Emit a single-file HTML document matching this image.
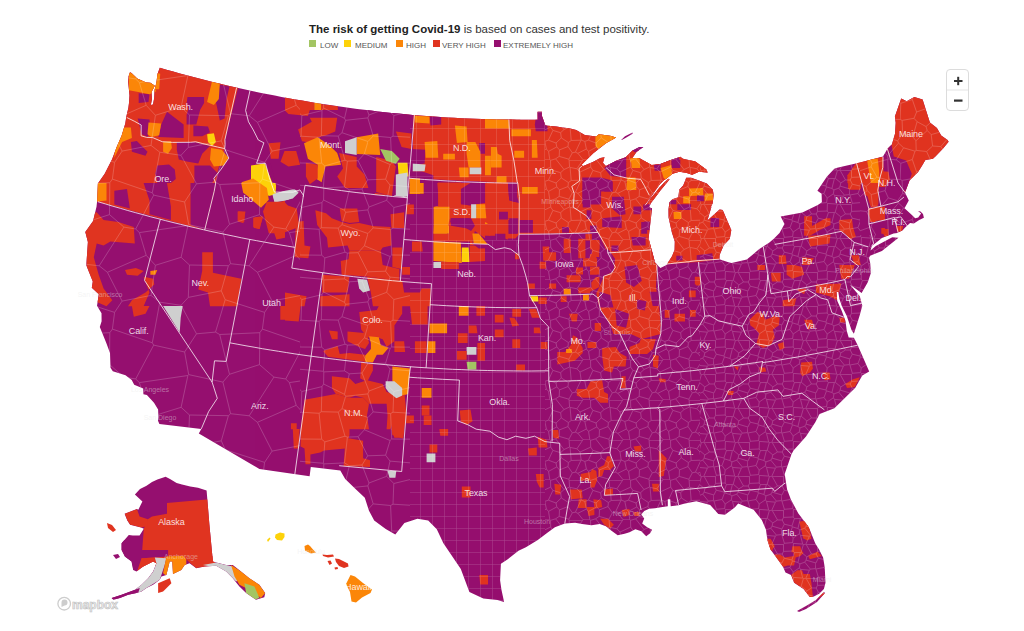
<!DOCTYPE html>
<html><head><meta charset="utf-8"><style>
html,body{margin:0;padding:0;background:#fff;width:1024px;height:631px;overflow:hidden}
body{font-family:"Liberation Sans",sans-serif;position:relative}
.title{position:absolute;left:309px;top:22.5px;font-size:11.5px;line-height:13px;color:#333;white-space:nowrap;letter-spacing:0px}
.title b{font-weight:bold;color:#222}
.leg{position:absolute;top:40.6px;font-size:8px;color:#555;white-space:nowrap;line-height:9px}
.sq{position:absolute;top:40px;width:7px;height:7px}
.zoom{position:absolute;left:946px;top:69px;width:22px;height:41px;border:1px solid #e6e6e6;border-radius:3px;background:#fff}
.zoom div{height:20px;position:relative}
.zoom div+div{border-top:1px solid #e6e6e6}
svg{position:absolute;left:0;top:0}
</style></head><body>
<svg width="1024" height="631" viewBox="0 0 1024 631">
<defs><clipPath id="us"><path d="M130.0,72.2 131.5,72.9 137.2,78.4 146.2,82.6 150.5,82.8 154.8,85.7 151.5,92.0 152.0,99.0 150.8,105.0 153.0,104.5 154.2,98.0 154.6,90.0 156.5,82.0 157.5,74.0 159.8,67.8 159.8,67.8 166.5,69.8 173.2,71.6 179.9,73.5 186.7,75.3 193.4,77.1 200.1,78.8 206.9,80.5 213.6,82.2 220.4,83.8 227.2,85.4 233.9,87.0 240.7,88.5 247.5,90.0 254.3,91.4 261.2,92.9 268.0,94.2 274.8,95.6 281.6,96.9 288.5,98.2 295.3,99.4 302.2,100.6 309.0,101.8 315.9,102.9 322.8,104.0 329.7,105.0 336.5,106.1 343.4,107.0 350.3,108.0 357.2,108.9 364.1,109.8 371.0,110.6 377.9,111.4 384.9,112.2 391.8,112.9 398.7,113.6 405.6,114.2 412.6,114.9 419.5,115.4 426.4,116.0 433.4,116.5 440.3,117.0 447.3,117.4 454.2,117.8 461.2,118.2 468.1,118.5 475.1,118.8 482.0,119.0 489.0,119.2 495.9,119.4 502.9,119.5 509.9,119.6 516.8,119.7 523.8,119.7 530.7,119.7 537.7,119.7 537.6,111.8 542.0,111.7 541.8,115.5 545.4,125.4 556.6,126.6 562.2,127.5 569.2,128.3 576.2,130.1 584.8,135.0 596.2,136.5 598.9,134.3 610.2,135.7 616.2,137.4 606.0,143.2 593.2,153.2 581.8,164.6 582.6,166.2 592.8,162.1 600.3,158.0 604.4,157.3 603.0,162.8 605.8,166.2 616.0,160.8 625.6,157.3 632.4,150.5 639.3,147.1 643.4,147.1 636.5,151.9 632.4,158.0 639.3,158.0 651.6,164.9 659.8,164.2 670.7,160.1 680.3,156.7 683.0,158.7 695.3,161.4 706.3,169.6 707.6,172.4 698.9,171.8 692.1,174.7 686.2,172.8 679.3,171.8 672.4,173.8 667.5,177.7 663.6,180.6 659.6,184.6 654.7,191.4 650.8,197.3 646.9,202.2 643.9,206.2 645.9,205.2 649.8,199.3 654.7,193.4 659.6,187.5 664.6,182.1 668.5,178.7 669.5,179.6 664.6,185.5 659.6,191.4 654.7,198.3 650.8,203.2 648.8,207.2 652.0,208.5 650.3,223.5 648.6,238.6 655.0,262.5 660.4,267.9 666.4,264.9 672.0,256.3 674.6,249.7 674.8,241.6 671.9,232.4 668.6,217.6 668.5,209.1 669.5,202.2 672.4,199.3 678.3,197.3 679.3,189.5 683.2,185.5 685.2,180.6 686.2,177.7 691.1,177.7 698.9,180.6 706.8,183.6 710.7,187.5 712.7,189.5 713.7,194.4 712.7,203.2 708.8,211.1 711.6,206.3 707.4,220.5 719.6,209.4 722.7,210.1 731.3,230.0 729.8,238.7 723.7,245.3 719.6,254.9 719.4,259.2 728.4,262.2 731.6,262.9 746.8,259.6 759.3,249.1 769.4,242.5 773.8,238.8 779.5,233.1 784.5,223.9 780.7,216.5 802.4,212.6 817.8,205.0 821.9,202.2 821.6,193.7 817.4,190.7 827.0,176.5 834.3,168.7 837.2,167.8 837.2,167.8 844.8,166.0 852.5,164.2 860.1,162.4 867.7,160.5 875.4,158.5 883.0,156.6 887.3,148.9 891.9,144.4 895.0,133.8 895.7,122.8 894.9,116.6 901.2,98.6 906.7,101.3 914.3,96.9 922.6,99.4 929.9,122.6 936.9,128.1 941.2,135.5 947.6,140.0 948.6,141.7 943.5,147.9 935.9,156.1 932.9,158.8 925.4,159.9 922.3,165.2 918.1,172.1 909.5,180.6 905.0,192.5 908.8,200.6 904.5,208.3 911.9,215.0 915.2,218.2 918.2,217.6 921.1,213.5 918.0,211.1 920.5,211.5 923.0,214.1 923.9,217.8 919.2,220.0 913.9,223.6 910.1,223.1 904.9,227.8 902.7,230.3 897.3,233.0 893.6,233.5 881.9,238.0 877.9,241.2 871.8,245.9 870.5,250.5 875.8,246.0 892.3,237.3 898.5,237.7 881.9,251.0 870.1,255.8 869.0,258.0 870.2,263.1 870.9,272.9 867.8,282.3 861.6,293.0 849.8,284.4 859.8,296.2 862.3,305.8 859.8,315.0 853.9,333.8 851.5,330.0 846.8,315.9 841.7,305.8 839.2,298.2 838.5,291.8 836.5,292.0 837.2,300.7 841.7,310.8 845.5,321.0 846.8,331.0 848.7,337.4 853.9,337.8 857.7,345.2 869.2,371.4 862.3,375.5 855.3,387.7 834.4,408.2 819.6,413.9 815.3,422.2 806.0,436.6 793.5,450.4 791.5,454.3 784.7,474.0 787.1,489.6 790.9,499.5 798.2,513.2 808.8,527.3 815.2,543.3 819.2,549.8 823.1,557.6 824.7,567.1 825.5,582.7 823.9,589.0 819.2,593.7 812.9,596.9 809.8,596.9 803.5,589.0 794.1,582.7 791.0,574.9 785.5,572.5 783.1,567.1 780.0,562.4 775.3,556.1 770.6,549.8 767.5,540.4 765.9,529.4 761.8,520.1 753.6,509.8 738.2,503.4 735.0,507.3 725.0,514.8 718.3,514.1 710.2,504.9 696.3,501.3 683.9,503.8 678.6,505.2 670.7,506.2 670.2,499.3 667.8,499.3 667.8,506.2 660.9,507.2 655.0,508.2 649.1,508.7 644.2,511.1 641.3,514.6 644.2,518.5 642.2,523.4 647.2,527.3 652.1,529.8 650.1,533.2 646.2,536.2 641.3,531.3 635.4,529.3 629.5,532.2 624.6,533.7 617.7,535.2 610.8,530.3 605.9,526.3 599.7,524.0 591.5,525.2 582.1,524.0 575.1,522.8 564.8,523.4 554.9,527.2 547.7,532.5 537.8,539.9 525.9,547.2 518.5,550.7 507.4,559.6 500.9,563.7 500.1,580.3 501.4,589.6 504.1,601.9 497.5,599.9 483.3,598.6 469.4,592.0 460.8,568.9 443.4,543.2 436.8,529.3 428.2,520.4 417.4,518.7 404.4,523.1 395.3,534.6 385.7,529.0 374.2,520.5 369.0,510.8 364.8,497.8 355.0,488.4 345.2,479.0 340.3,470.4 310.8,466.9 309.6,476.3 259.4,469.0 198.8,433.4 201.3,428.9 159.4,424.1 158.0,420.8 158.4,417.0 158.1,409.4 154.0,402.8 146.9,394.9 143.4,394.3 143.2,388.4 134.2,384.7 131.7,379.9 125.5,375.3 112.8,371.2 110.5,367.7 110.0,353.0 106.2,342.8 99.8,327.1 101.6,321.2 101.5,313.3 97.0,305.7 98.8,294.2 91.8,287.8 92.8,281.5 86.3,265.3 87.9,242.0 85.3,232.1 93.1,220.9 96.5,206.7 97.2,200.4 97.9,183.4 104.7,173.7 112.2,159.1 116.8,146.7 121.6,135.7 125.3,123.6 126.3,116.7 128.4,107.8 129.0,102.9 129.5,95.5 128.2,81.9 128.6,76.3Z M824.0,592.0 816.0,600.0 806.0,606.0 797.0,611.0 799.0,612.0 806.0,609.0 817.0,602.0 825.0,593.0Z M621.1,139.9 625.0,136.3 632.5,132.4 632.6,133.7 625.9,137.7 621.8,140.1Z"/></clipPath><pattern id="cA" patternUnits="userSpaceOnUse" width="150" height="150"><path d="M122.1 1.1L107.4 -27.7M122.1 151.1L107.4 122.3M107.4 122.3L99.2 115.8M99.2 115.8L80.6 113.7M80.6 113.7L78.4 115.7M78.4 115.7L71.3 140.8M71.3 140.8L75.2 149.7M146.2 105.3L139.4 82.6M146.2 105.3L107.4 122.3M139.4 82.6L135.7 79.0M123.9 77.1L135.7 79.0M123.9 77.1L99.2 115.8M109.5 64.6L123.9 77.1M109.5 64.6L79.5 74.3M80.6 113.7L72.9 82.1M79.5 74.3L72.9 82.1M-14.3 79.0L3.7 45.1M135.7 79.0L153.7 45.1M-27.9 1.1L1.0 -4.6M-27.9 151.1L1.0 145.4M122.1 1.1L151.0 -4.6M122.1 151.1L151.0 145.4M78.4 115.7L39.5 115.0M71.3 140.8L38.3 147.4M39.5 115.0L38.3 147.4M9.8 2.2L1.0 -4.6M9.8 152.2L1.0 145.4M46.5 33.8L31.0 5.3M46.5 33.8L34.6 52.0M31.0 5.3L9.8 2.2M3.7 45.1L34.6 52.0M3.7 45.1L2.3 42.8M9.8 2.2L2.3 42.8M31.1 107.3L5.4 115.3M31.1 107.3L37.9 75.5M37.9 75.5L-10.6 82.6M187.9 75.5L139.4 82.6M5.4 115.3L-3.8 105.3M155.4 115.3L146.2 105.3M39.5 115.0L31.1 107.3M1.0 145.4L5.4 115.3M72.9 82.1L38.7 74.6M38.7 74.6L37.9 75.5M38.7 74.6L34.6 52.0M109.8 32.7L112.4 29.1M109.8 32.7L69.7 34.5M112.4 29.1L114.6 12.4M114.6 12.4L75.2 -0.3M114.6 162.4L75.2 149.7M75.2 -0.3L65.5 32.1M75.2 149.7L65.5 182.1M69.7 34.5L65.5 32.1M109.5 64.6L109.8 32.7M2.3 42.8L-37.6 29.1M152.3 42.8L112.4 29.1M79.5 74.3L69.7 34.5M122.1 1.1L114.6 12.4M46.5 33.8L65.5 32.1M31.0 5.3L38.3 -2.6M31.0 155.3L38.3 147.4" stroke="#fff" stroke-width="0.8" fill="none"/></pattern><pattern id="cB" patternUnits="userSpaceOnUse" width="92" height="92"><path d="M25.0 44.2L43.1 45.3M25.0 44.2L25.8 23.5M46.0 18.6L25.8 23.5M46.0 18.6L45.3 43.7M45.3 43.7L43.1 45.3M23.7 71.0L22.6 45.5M23.7 71.0L45.7 71.2M45.7 71.2L43.1 45.3M22.6 45.5L25.0 44.2M48.8 73.9L69.0 68.2M48.8 73.9L45.7 71.2M69.0 68.2L62.2 44.1M62.2 44.1L45.3 43.7M-0.2 25.9L5.2 43.9M91.8 25.9L97.2 43.9M5.2 43.9L-0.0 49.5M97.2 43.9L92.0 49.5M22.6 45.5L5.2 43.9M25.8 23.5L18.7 16.3M1.0 23.0L18.7 16.3M1.0 23.0L-0.2 25.9M93.0 23.0L91.8 25.9M22.1 72.5L-3.6 61.8M114.1 72.5L88.4 61.8M22.1 72.5L23.7 71.0M88.4 61.8L92.0 49.5M91.7 87.8L82.1 68.7M82.1 68.7L88.4 61.8M69.0 68.2L71.4 69.1M62.2 44.1L66.0 40.7M66.0 40.7L92.0 49.5M82.1 68.7L71.4 69.1M48.8 -18.1L47.4 3.3M48.8 73.9L47.4 95.3M71.4 -22.9L68.5 2.9M71.4 69.1L68.5 94.9M66.0 40.7L69.6 28.3M91.8 25.9L69.6 28.3M46.0 18.6L47.6 16.0M47.6 16.0L68.5 26.3M69.6 28.3L68.5 26.3M22.0 1.1L18.7 16.3M-0.3 87.8L17.6 87.2M91.7 87.8L109.6 87.2M17.6 -4.8L22.0 1.1M17.6 87.2L22.0 93.1M22.1 72.5L17.6 87.2M47.4 3.3L47.8 3.9M47.8 3.9L68.5 2.9M22.0 1.1L47.4 3.3M47.6 16.0L47.8 3.9M73.3 5.8L68.5 26.3M73.3 5.8L68.5 2.9M73.3 5.8L86.0 5.0M1.0 23.0L-6.0 5.0M93.0 23.0L86.0 5.0M86.0 5.0L91.7 -4.2M86.0 97.0L91.7 87.8" stroke="#fff" stroke-width="0.8" fill="none"/></pattern><pattern id="cG" patternUnits="userSpaceOnUse" width="12" height="12"><path d="M0 0.4H12M0.4 0V12" stroke="#fff" stroke-width="0.55" fill="none"/></pattern><pattern id="cH" patternUnits="userSpaceOnUse" width="16" height="16"><path d="M0 0.4H16M0.4 0V16" stroke="#fff" stroke-width="0.55" fill="none"/></pattern><pattern id="cC" patternUnits="userSpaceOnUse" width="40" height="40"><path d="M-0.5 29.9L8.0 26.5M39.5 29.9L48.0 26.5M12.3 32.8L8.9 39.2M12.3 32.8L8.0 26.5M8.9 39.2L-0.8 36.4M48.9 39.2L39.2 36.4M8.9 -0.8L9.1 0.2M8.9 39.2L9.1 40.2M8.0 26.5L8.4 22.5M8.4 22.5L1.3 17.9M12.3 32.8L15.4 32.2M15.4 32.2L17.9 33.3M23.1 39.8L17.9 33.3M4.0 9.5L0.6 12.7M4.0 9.5L9.6 7.0M8.4 22.5L11.2 20.5M9.6 7.0L10.1 7.4M0.6 12.7L1.3 17.9M11.2 20.5L10.1 7.4M15.4 32.2L21.0 20.2M11.2 20.5L21.0 20.2M24.8 21.4L21.2 20.1M24.8 21.4L26.4 29.0M17.9 33.3L26.4 29.0M21.0 20.2L21.2 20.1M9.6 7.0L9.1 0.2M23.1 39.8L29.9 39.9M26.4 29.0L28.5 31.4M28.5 31.4L29.9 39.9M35.6 38.8L39.2 36.4M35.6 -1.2L30.5 0.4M35.6 38.8L30.5 40.4M21.2 20.1L20.0 12.0M10.1 7.4L16.9 8.8M16.9 8.8L20.0 12.0M9.1 0.2L22.6 0.3M16.9 8.8L22.6 0.3M24.8 21.4L28.4 20.2M28.4 20.2L32.9 10.4M32.9 10.4L30.7 7.1M20.0 12.0L30.7 7.1M22.6 0.3L23.1 -0.2M22.6 40.3L23.1 39.8M30.5 0.4L29.9 -0.1M30.5 40.4L29.9 39.9M30.7 7.1L30.5 0.4M39.2 36.4L39.5 29.9M28.4 20.2L36.0 23.0M28.5 31.4L36.8 26.9M36.0 23.0L36.8 26.9M36.8 26.9L39.5 29.9M-4.0 23.0L1.3 17.9M36.0 23.0L41.3 17.9M-7.1 10.4L0.6 12.7M32.9 10.4L40.6 12.7M-4.4 -1.2L4.0 9.5M-4.4 38.8L4.0 49.5M35.6 -1.2L44.0 9.5M35.6 38.8L44.0 49.5" stroke="#fff" stroke-width="0.8" fill="none"/></pattern><pattern id="cD" patternUnits="userSpaceOnUse" width="34" height="34"><path d="M12.4 8.6L9.9 16.0M12.4 8.6L18.4 8.5M9.9 16.0L10.5 16.9M10.5 16.9L15.9 18.5M18.4 8.5L15.9 18.5M33.9 19.0L24.1 16.1M33.9 19.0L33.4 24.6M33.4 24.6L28.4 25.1M24.1 16.1L22.8 18.2M28.4 25.1L22.8 18.2M8.0 23.5L10.5 16.9M8.0 23.5L11.2 28.0M11.2 28.0L17.4 23.8M15.9 18.5L17.9 19.9M17.4 23.8L17.9 19.9M33.4 24.6L33.9 25.0M23.8 0.2L27.4 -7.8M23.8 34.2L27.4 26.2M18.5 25.4L27.4 26.2M18.5 -8.6L20.7 0.1M18.5 25.4L20.7 34.1M28.4 25.1L27.4 26.2M22.8 18.2L17.9 19.9M17.4 23.8L18.5 25.4M11.2 28.0L10.6 32.6M10.6 32.6L11.4 33.4M11.4 -0.6L20.7 0.1M11.4 33.4L20.7 34.1M29.5 10.0L24.1 0.3M29.5 10.0L24.8 12.9M24.8 12.9L19.2 8.2M19.2 8.2L21.4 0.5M21.4 0.5L23.8 0.2M24.1 0.3L23.8 0.2M1.5 0.6L-9.9 0.3M35.5 0.6L24.1 0.3M0.2 10.0L-4.5 10.0M34.2 10.0L29.5 10.0M24.1 16.1L24.8 12.9M18.4 8.5L19.2 8.2M10.6 32.6L2.4 33.3M2.4 -0.7L1.5 0.6M2.4 33.3L1.5 34.6M8.0 23.5L-0.1 25.0M42.0 23.5L33.9 25.0M2.4 33.3L-0.1 25.0M36.4 33.3L33.9 25.0M21.4 0.5L20.7 0.1M11.2 7.0L1.5 7.4M11.2 7.0L11.4 -0.6M11.2 41.0L11.4 33.4M1.5 7.4L1.5 0.6M12.4 8.6L11.2 7.0M9.9 16.0L2.3 14.2M0.2 10.0L2.3 14.2M0.2 10.0L1.5 7.4M2.3 14.2L-0.1 19.0M36.3 14.2L33.9 19.0" stroke="#fff" stroke-width="0.8" fill="none"/></pattern><pattern id="cE" patternUnits="userSpaceOnUse" width="60" height="60"><path d="M0.1 59.4L-11.3 59.3M60.1 59.4L48.7 59.3M48.7 59.3L47.7 39.4M0.8 43.3L-3.7 39.9M60.8 43.3L56.3 39.9M56.3 39.9L48.0 39.0M48.0 39.0L47.7 39.4M3.6 27.8L-3.7 39.9M63.6 27.8L56.3 39.9M47.6 35.9L58.5 23.1M47.6 35.9L48.0 39.0M47.6 35.9L40.8 26.6M40.8 26.6L48.3 17.9M58.5 23.1L57.7 20.8M57.7 20.8L48.3 17.9M2.1 0.4L2.6 13.4M2.6 13.4L12.8 16.7M12.8 16.7L17.1 1.7M-2.3 20.8L2.6 13.4M57.7 20.8L62.6 13.4M32.1 43.5L47.7 39.4M32.1 43.5L26.6 31.5M40.8 26.6L32.6 26.0M32.6 26.0L26.6 31.5M-1.5 23.1L3.6 27.8M58.5 23.1L63.6 27.8M15.0 31.2L3.6 27.8M15.0 31.2L16.2 30.4M12.8 16.7L15.9 20.8M16.2 30.4L15.9 20.8M48.7 59.3L47.5 59.9M31.2 46.8L36.9 57.1M31.2 46.8L16.6 52.0M16.6 52.0L14.0 58.3M17.1 1.7L14.0 -1.7M17.1 61.7L14.0 58.3M32.1 43.5L31.2 46.8M47.5 59.9L36.9 57.1M12.3 39.5L15.0 31.2M12.3 39.5L16.6 52.0M26.6 31.5L16.2 30.4M26.0 6.5L36.9 -2.9M26.0 66.5L36.9 57.1M26.0 6.5L27.2 10.5M27.2 10.5L31.2 14.6M31.2 14.6L45.1 10.6M47.5 -0.1L45.1 10.6M47.5 59.9L45.1 70.6M17.1 1.7L26.0 6.5M15.9 20.8L27.2 10.5M32.6 26.0L31.2 14.6M48.3 17.9L45.1 10.6M2.1 0.4L14.0 -1.7M2.1 60.4L14.0 58.3M2.1 0.4L0.1 -0.6M2.1 60.4L0.1 59.4M12.3 39.5L0.8 43.3M0.1 59.4L0.8 43.3" stroke="#fff" stroke-width="0.8" fill="none"/></pattern></defs>
<path d="M130.0,72.2 131.5,72.9 137.2,78.4 146.2,82.6 150.5,82.8 154.8,85.7 151.5,92.0 152.0,99.0 150.8,105.0 153.0,104.5 154.2,98.0 154.6,90.0 156.5,82.0 157.5,74.0 159.8,67.8 159.8,67.8 166.5,69.8 173.2,71.6 179.9,73.5 186.7,75.3 193.4,77.1 200.1,78.8 206.9,80.5 213.6,82.2 220.4,83.8 227.2,85.4 233.9,87.0 240.7,88.5 247.5,90.0 254.3,91.4 261.2,92.9 268.0,94.2 274.8,95.6 281.6,96.9 288.5,98.2 295.3,99.4 302.2,100.6 309.0,101.8 315.9,102.9 322.8,104.0 329.7,105.0 336.5,106.1 343.4,107.0 350.3,108.0 357.2,108.9 364.1,109.8 371.0,110.6 377.9,111.4 384.9,112.2 391.8,112.9 398.7,113.6 405.6,114.2 412.6,114.9 419.5,115.4 426.4,116.0 433.4,116.5 440.3,117.0 447.3,117.4 454.2,117.8 461.2,118.2 468.1,118.5 475.1,118.8 482.0,119.0 489.0,119.2 495.9,119.4 502.9,119.5 509.9,119.6 516.8,119.7 523.8,119.7 530.7,119.7 537.7,119.7 537.6,111.8 542.0,111.7 541.8,115.5 545.4,125.4 556.6,126.6 562.2,127.5 569.2,128.3 576.2,130.1 584.8,135.0 596.2,136.5 598.9,134.3 610.2,135.7 616.2,137.4 606.0,143.2 593.2,153.2 581.8,164.6 582.6,166.2 592.8,162.1 600.3,158.0 604.4,157.3 603.0,162.8 605.8,166.2 616.0,160.8 625.6,157.3 632.4,150.5 639.3,147.1 643.4,147.1 636.5,151.9 632.4,158.0 639.3,158.0 651.6,164.9 659.8,164.2 670.7,160.1 680.3,156.7 683.0,158.7 695.3,161.4 706.3,169.6 707.6,172.4 698.9,171.8 692.1,174.7 686.2,172.8 679.3,171.8 672.4,173.8 667.5,177.7 663.6,180.6 659.6,184.6 654.7,191.4 650.8,197.3 646.9,202.2 643.9,206.2 645.9,205.2 649.8,199.3 654.7,193.4 659.6,187.5 664.6,182.1 668.5,178.7 669.5,179.6 664.6,185.5 659.6,191.4 654.7,198.3 650.8,203.2 648.8,207.2 652.0,208.5 650.3,223.5 648.6,238.6 655.0,262.5 660.4,267.9 666.4,264.9 672.0,256.3 674.6,249.7 674.8,241.6 671.9,232.4 668.6,217.6 668.5,209.1 669.5,202.2 672.4,199.3 678.3,197.3 679.3,189.5 683.2,185.5 685.2,180.6 686.2,177.7 691.1,177.7 698.9,180.6 706.8,183.6 710.7,187.5 712.7,189.5 713.7,194.4 712.7,203.2 708.8,211.1 711.6,206.3 707.4,220.5 719.6,209.4 722.7,210.1 731.3,230.0 729.8,238.7 723.7,245.3 719.6,254.9 719.4,259.2 728.4,262.2 731.6,262.9 746.8,259.6 759.3,249.1 769.4,242.5 773.8,238.8 779.5,233.1 784.5,223.9 780.7,216.5 802.4,212.6 817.8,205.0 821.9,202.2 821.6,193.7 817.4,190.7 827.0,176.5 834.3,168.7 837.2,167.8 837.2,167.8 844.8,166.0 852.5,164.2 860.1,162.4 867.7,160.5 875.4,158.5 883.0,156.6 887.3,148.9 891.9,144.4 895.0,133.8 895.7,122.8 894.9,116.6 901.2,98.6 906.7,101.3 914.3,96.9 922.6,99.4 929.9,122.6 936.9,128.1 941.2,135.5 947.6,140.0 948.6,141.7 943.5,147.9 935.9,156.1 932.9,158.8 925.4,159.9 922.3,165.2 918.1,172.1 909.5,180.6 905.0,192.5 908.8,200.6 904.5,208.3 911.9,215.0 915.2,218.2 918.2,217.6 921.1,213.5 918.0,211.1 920.5,211.5 923.0,214.1 923.9,217.8 919.2,220.0 913.9,223.6 910.1,223.1 904.9,227.8 902.7,230.3 897.3,233.0 893.6,233.5 881.9,238.0 877.9,241.2 871.8,245.9 870.5,250.5 875.8,246.0 892.3,237.3 898.5,237.7 881.9,251.0 870.1,255.8 869.0,258.0 870.2,263.1 870.9,272.9 867.8,282.3 861.6,293.0 849.8,284.4 859.8,296.2 862.3,305.8 859.8,315.0 853.9,333.8 851.5,330.0 846.8,315.9 841.7,305.8 839.2,298.2 838.5,291.8 836.5,292.0 837.2,300.7 841.7,310.8 845.5,321.0 846.8,331.0 848.7,337.4 853.9,337.8 857.7,345.2 869.2,371.4 862.3,375.5 855.3,387.7 834.4,408.2 819.6,413.9 815.3,422.2 806.0,436.6 793.5,450.4 791.5,454.3 784.7,474.0 787.1,489.6 790.9,499.5 798.2,513.2 808.8,527.3 815.2,543.3 819.2,549.8 823.1,557.6 824.7,567.1 825.5,582.7 823.9,589.0 819.2,593.7 812.9,596.9 809.8,596.9 803.5,589.0 794.1,582.7 791.0,574.9 785.5,572.5 783.1,567.1 780.0,562.4 775.3,556.1 770.6,549.8 767.5,540.4 765.9,529.4 761.8,520.1 753.6,509.8 738.2,503.4 735.0,507.3 725.0,514.8 718.3,514.1 710.2,504.9 696.3,501.3 683.9,503.8 678.6,505.2 670.7,506.2 670.2,499.3 667.8,499.3 667.8,506.2 660.9,507.2 655.0,508.2 649.1,508.7 644.2,511.1 641.3,514.6 644.2,518.5 642.2,523.4 647.2,527.3 652.1,529.8 650.1,533.2 646.2,536.2 641.3,531.3 635.4,529.3 629.5,532.2 624.6,533.7 617.7,535.2 610.8,530.3 605.9,526.3 599.7,524.0 591.5,525.2 582.1,524.0 575.1,522.8 564.8,523.4 554.9,527.2 547.7,532.5 537.8,539.9 525.9,547.2 518.5,550.7 507.4,559.6 500.9,563.7 500.1,580.3 501.4,589.6 504.1,601.9 497.5,599.9 483.3,598.6 469.4,592.0 460.8,568.9 443.4,543.2 436.8,529.3 428.2,520.4 417.4,518.7 404.4,523.1 395.3,534.6 385.7,529.0 374.2,520.5 369.0,510.8 364.8,497.8 355.0,488.4 345.2,479.0 340.3,470.4 310.8,466.9 309.6,476.3 259.4,469.0 198.8,433.4 201.3,428.9 159.4,424.1 158.0,420.8 158.4,417.0 158.1,409.4 154.0,402.8 146.9,394.9 143.4,394.3 143.2,388.4 134.2,384.7 131.7,379.9 125.5,375.3 112.8,371.2 110.5,367.7 110.0,353.0 106.2,342.8 99.8,327.1 101.6,321.2 101.5,313.3 97.0,305.7 98.8,294.2 91.8,287.8 92.8,281.5 86.3,265.3 87.9,242.0 85.3,232.1 93.1,220.9 96.5,206.7 97.2,200.4 97.9,183.4 104.7,173.7 112.2,159.1 116.8,146.7 121.6,135.7 125.3,123.6 126.3,116.7 128.4,107.8 129.0,102.9 129.5,95.5 128.2,81.9 128.6,76.3Z M824.0,592.0 816.0,600.0 806.0,606.0 797.0,611.0 799.0,612.0 806.0,609.0 817.0,602.0 825.0,593.0Z M621.1,139.9 625.0,136.3 632.5,132.4 632.6,133.7 625.9,137.7 621.8,140.1Z" fill="#950f6f"/>
<g clip-path="url(#us)">
<path d="M60,50 150,55 190,68 236.6,84 238,88 224.9,139.7 224.7,148.6 218,170 214.2,191.3 204.7,230 97.9,201.7 60,200Z" fill="#e03420"/>
<path d="M138.7,93.2 149.5,94.2 148.5,102 138.7,103Z" fill="#950f6f"/>
<path d="M187.5,97.1 204.1,97.1 204.1,103 200.2,109.8 196.3,124.5 186.6,124.5 186.6,114.7 188.5,108.8 186.6,103Z" fill="#950f6f"/>
<path d="M167,111.8 183.6,124.5 183.6,138.1 158.2,137.1 161.2,124.5Z" fill="#950f6f"/>
<path d="M219.8,84.4 229.5,86.4 226.6,99.1 224.6,118.6 219.8,120.5 215.9,102Z" fill="#950f6f"/>
<path d="M193.4,125.4 208,126.4 210,132.3 202.2,136.2 193.4,136.2Z" fill="#950f6f"/>
<path d="M137.7,118.6 149.5,119.6 150.4,130.3 147.5,137.1 141.6,134.2 139.7,126.4Z" fill="#950f6f"/>
<path d="M130.9,142 136.8,141.1 147.5,151.8 145.5,155.7 131.9,151.8Z" fill="#950f6f"/>
<path d="M176.8,142 194.4,142 210,145.9 202.2,153.8 198.3,163.5 186.6,161.6 178.8,159.6 176.8,149.8Z" fill="#950f6f"/>
<path d="M157.3,165.5 169,164.5 174.8,169.4 175.8,179.1 170.9,183 157.3,183 155.3,173.3Z" fill="#950f6f"/>
<path d="M194.4,165.5 210,165.5 217.8,173.3 212,183.2 194.4,183.2Z" fill="#950f6f"/>
<path d="M128.9,71.7 141.6,79.5 152.4,83.4 156.3,91.2 149.5,94.2 139.7,92.2 128.9,90.3Z" fill="#fb8608"/>
<path d="M151.4,71.7 160.2,73.7 159.2,89.3 153.4,89.3Z" fill="#fb8608"/>
<path d="M212,81.5 219.8,83.4 218.8,99.1 213.9,104.9 207.1,102Z" fill="#fb8608"/>
<path d="M148.5,122.5 161.2,123.5 159.2,135.2 151.4,137.1 147.5,134.2Z" fill="#fb8608"/>
<path d="M123.1,127.4 130.9,127.4 131.9,138.1 122.1,142 117.2,151.8 114.3,157.7 115.3,145.9Z" fill="#fb8608"/>
<path d="M163.1,142 170.9,141.1 171.9,147.9 168,153.8 163.1,151.8Z" fill="#fb8608"/>
<path d="M211,147.9 221.7,149.8 228.6,157.7 223.7,165.5 213.9,166.4 210,159.6Z" fill="#fb8608"/>
<path d="M207.1,134.2 213.9,133.2 215.9,142 212,145.9 208,142Z" fill="#fdd20a"/>
<path d="M271.5,142 280.3,143 280.3,157.7 272.5,159.6 269.6,151.8Z" fill="#e03420"/>
<path d="M251,165.5 264.7,163.5 268.6,173.3 272.5,183.2 251,183.2Z" fill="#fdd20a"/>
<path d="M285,96.1 314.3,102 314.3,116.6 308.4,118.6 292.8,116.6 285,118.6Z" fill="#e03420"/>
<path d="M321.1,103.9 337.7,105.9 338.7,122.5 333.8,130.3 324.1,133.2 310.4,124.5 309.4,118.6 321.1,118.6Z" fill="#e03420"/>
<path d="M298.7,129.3 310.4,126.4 324.1,134.2 318.2,142 304.5,142 298.7,138.1Z" fill="#e03420"/>
<path d="M396.3,132.3 406.1,130.3 412,134.2 412,144 405.1,147.9 397.3,142Z" fill="#e03420"/>
<path d="M399.3,113.7 412.9,114.7 412.9,127.4 406.1,128.4 400.2,122.5Z" fill="#e03420"/>
<path d="M287,149.8 296.7,151.8 300.6,165.5 292.8,169.4 287,165.5Z" fill="#e03420"/>
<path d="M306.5,161.6 316.2,165.5 316.2,183.2 306.5,183.2Z" fill="#e03420"/>
<path d="M339.7,153.8 357.3,155.7 357.3,177.2 349.5,183.2 335.8,183.2 341.6,169.4Z" fill="#e03420"/>
<path d="M378.8,157.7 394.4,161.6 397.3,177.2 394.4,183.2 376.8,183.2Z" fill="#e03420"/>
<path d="M314.3,102 321.1,103 321.1,118.6 314.3,118.6Z" fill="#fb8608"/>
<path d="M304.5,142 317.2,138.1 326,147.9 341.6,153.8 341.6,165.5 329.9,169.4 324.1,183.2 318.2,183.2 316.2,169.4 308.4,157.7Z" fill="#fb8608"/>
<path d="M356.3,137.1 367,140.1 378.8,132.3 380.7,155.7 357.3,155.7Z" fill="#fb8608"/>
<path d="M346.5,142 352.4,138.1 357.3,140.1 356.3,155.7 349.5,155.7 345.5,147.9Z" fill="#cfcfcf"/>
<path d="M402.2,147.9 411,147.9 410,163.5 402.2,163.5Z" fill="#cfcfcf"/>
<path d="M395.4,174.3 410,175.2 410,183.2 394.4,183.2Z" fill="#cfcfcf"/>
<path d="M380.7,149.8 388.5,150.8 394.4,155.7 402.2,159.6 400.2,164.5 390.5,163.5 382.7,157.7Z" fill="#a3c563"/>
<path d="M397.3,162.5 408,161.6 410,177.2 398.3,177.2Z" fill="#fdd20a"/>
<path d="M414.4,100 520,100 521,183.2 409.1,178.2Z" fill="#e03420"/>
<path d="M429.5,116.6 441.2,116.6 441.2,124.5 430.5,125.4Z" fill="#950f6f"/>
<path d="M411,148.9 425.6,149.8 424.6,163.5 412,165.5Z" fill="#950f6f"/>
<path d="M479.3,143 485,143 485,153.8 479.3,153.8Z" fill="#950f6f"/>
<path d="M410,171.3 421.7,171.3 433.4,175.2 433.4,183.2 410,183.2Z" fill="#950f6f"/>
<path d="M414.9,115.7 429.5,116.6 429.5,123.5 414.9,122.5Z" fill="#fb8608"/>
<path d="M424.6,142 437.3,141.1 438.3,157.7 425.6,157.7Z" fill="#fb8608"/>
<path d="M454.9,125.4 466.6,126.4 467.6,142 456.9,143Z" fill="#fb8608"/>
<path d="M466.6,142 475.4,142 480.3,151.8 480.3,167.4 468.6,167.4 466.6,153.8Z" fill="#fb8608"/>
<path d="M443.2,153.8 454.9,153.8 454.9,159.6 443.2,159.6Z" fill="#fb8608"/>
<path d="M458.8,167.4 468.6,167.4 468.6,177.2 459.8,177.2Z" fill="#fb8608"/>
<path d="M411,163.5 425.6,164.5 424.6,171.3 412,171.3Z" fill="#cfcfcf"/>
<path d="M469.6,167.4 481.3,167.4 481.3,174.3 469.6,174.3Z" fill="#cfcfcf"/>
<path d="M505,100 660,100 620,140 581.9,166.2 579.6,180.9 574.2,193.6 573.2,207.2 586.9,216.1 597.9,232.4 519.1,234.2 517.8,183.2 508.9,119.6Z" fill="#e03420"/>
<path d="M600,150 720,150 710,175 689.5,176 660,182 649.3,195.3 627.4,178.2 606.2,167.7Z" fill="#e03420"/>
<path d="M536.8,111.8 541.6,111.8 543.6,118.6 547.5,126.4 547.5,131.3 535.8,131.3 534.8,124.5Z" fill="#950f6f"/>
<path d="M485,118.6 508.4,119.6 509.4,128.4 485,128.4Z" fill="#fb8608"/>
<path d="M511.4,129.3 530.9,129.3 530.9,136.2 511.4,136.2Z" fill="#fb8608"/>
<path d="M531.9,140.1 536.8,140.1 537.7,157.7 531.9,157.7Z" fill="#fb8608"/>
<path d="M514.3,150.8 524.1,150.8 524.1,157.7 514.3,157.7Z" fill="#fb8608"/>
<path d="M490.9,146.9 496.7,146.9 497.7,153.8 501.6,155.7 501.6,167.4 490.9,167.4Z" fill="#fb8608"/>
<path d="M485,155.7 490.9,155.7 490.9,175.2 485,175.2Z" fill="#fb8608"/>
<path d="M496.7,176.2 506.5,176.2 506.5,183.2 496.7,183.2Z" fill="#fb8608"/>
<path d="M595.4,133.2 604.1,134.2 617.8,137.1 602.2,145.9 598.3,148.9 595.4,145.9Z" fill="#fb8608"/>
<path d="M583,150 607,150 610,170 575,185 575,165Z" fill="#e03420"/>
<path d="M603,166.2 616,160.8 625.6,157.3 627,171 621.5,176.5 611.9,175.1 604.4,171Z" fill="#950f6f"/>
<path d="M632.4,150.5 639.3,146.4 644.7,147.1 639.3,150.5 635.2,152.6Z" fill="#950f6f"/>
<path d="M629.7,158.7 635.8,156.7 639.3,159.4 639.3,168.3 631.7,168.3Z" fill="#fb8608"/>
<path d="M653.6,165.5 663.9,161.4 678.9,157.3 680.3,164.2 673.4,169.6 662.5,169.6 655.7,171Z" fill="#950f6f"/>
<path d="M661.1,164.9 670.7,164.2 672.1,175.1 662.5,176.5Z" fill="#fb8608"/>
<path d="M582.5,176.5 611.9,175.8 613.3,186.1 582.5,186.1Z" fill="#950f6f"/>
<path d="M96.7,183 106.5,183 106.5,200.6 96.7,201.6Z" fill="#fb8608"/>
<path d="M114.3,190.8 127,188.9 129.9,208.4 114.3,204.5Z" fill="#950f6f"/>
<path d="M143.6,183 167,183 170.9,206.4 170.9,220.1 149.5,214.2 149.5,200.6Z" fill="#950f6f"/>
<path d="M190.5,183 215.9,183 204.7,229.9 190.5,225Z" fill="#950f6f"/>
<path d="M85,214.2 96.7,212.3 103.6,220.1 118.2,222.1 133.8,226.9 134.8,243.5 110.4,241.6 103.6,245.5 96.7,243.5 93.8,257.2 98.7,274.8 103.6,288.5 112.3,300.2 106.5,306.2 92.8,300.2 87,274.8 85,241.6Z" fill="#e03420"/>
<path d="M125,269.9 135.8,268 143.6,270.9 137.7,275.8 127,274.8Z" fill="#e03420"/>
<path d="M150.4,270.9 157.3,269.9 155.3,274.8 150.4,274.8Z" fill="#fb8608"/>
<path d="M143.6,276.8 153.4,278.7 154.3,284.6 145.5,292.4 131.9,300.2 128,306.2 143.6,306.2 149.5,292.4Z" fill="#e03420"/>
<path d="M202.2,252.3 212.9,252.3 212.9,272.8 241.2,278.7 237.3,306.2 210,306.2 208,292.4 198.3,289.4 202.2,270.9Z" fill="#e03420"/>
<path d="M238.3,211.3 245.2,212.3 244.2,222.1 239.3,221.1Z" fill="#e03420"/>
<path d="M254.9,217.2 262.7,216.2 259.8,228.9 253.9,227.9Z" fill="#e03420"/>
<path d="M268.6,206.4 285,200.6 285,237.7 276.4,239.6 272.5,227.9 268.6,218.2Z" fill="#e03420"/>
<path d="M241.2,183 266.6,183 266.6,202.5 260.8,205.5 251,198.6 243.2,192.8Z" fill="#fb8608"/>
<path d="M260.8,183 276.4,183 275.4,194.7 266.6,194.7Z" fill="#fdd20a"/>
<path d="M272.5,194.7 285,190.8 285,200.6 274.5,202.5Z" fill="#cfcfcf"/>
<path d="M315.3,210.3 326,213.3 331.9,218.2 341.6,222.1 349.5,224 359.2,223 372.9,226 390.5,226.9 391.4,245.5 382.7,247.5 380.7,250.4 349.5,250.4 347.5,245.5 328,247.5 327,237.7 317.2,225Z" fill="#e03420"/>
<path d="M339.7,208.4 357.3,208.4 359.2,222.1 349.5,223 341.6,221.1Z" fill="#e03420"/>
<path d="M295.7,222.1 303.6,221.1 304.5,245.5 310.4,246.5 308.4,258.2 294.8,257.2Z" fill="#e03420"/>
<path d="M349.5,250.4 380.7,250.4 382.7,265 399.3,268.9 399.3,280.7 369,276.8 341.6,274.8 340.7,261.1 348.5,259.2Z" fill="#e03420"/>
<path d="M392.4,247.5 402.2,247.5 401.2,268.9 392.4,267Z" fill="#e03420"/>
<path d="M390.5,214.2 404.1,212.3 404.1,227.9 391.4,227.9Z" fill="#e03420"/>
<path d="M339.7,183 369,183 369,188.9 339.7,188.9Z" fill="#e03420"/>
<path d="M374.8,183 393.4,183 393.4,194.7 374.8,194.7Z" fill="#e03420"/>
<path d="M393.4,183 408,183 407.1,197.6 394.4,195.7Z" fill="#cfcfcf"/>
<path d="M408,183 423.7,183 423.7,193.7 409,193.7Z" fill="#fb8608"/>
<path d="M285,190.8 294.8,188.9 298.7,192.8 292.8,198.6 285,200.6Z" fill="#cfcfcf"/>
<path d="M285,204.5 296.7,208.4 298.7,222.1 290.9,226 285,222.1Z" fill="#e03420"/>
<path d="M406.1,204.5 413.9,204.5 413.9,214.2 406.1,214.2Z" fill="#e03420"/>
<path d="M437.3,183 472.5,183 472.5,204.5 460.8,204.5 454.9,208.4 449.1,206.4 439.3,206.4Z" fill="#e03420"/>
<path d="M435.4,206.4 449.1,206.4 449.1,233.8 433.4,233.8Z" fill="#fb8608"/>
<path d="M471.5,204.5 476.4,204.5 476.4,218.2 471.5,218.2Z" fill="#cfcfcf"/>
<path d="M476.4,204.5 485,204.5 485,222.1 476.4,222.1Z" fill="#fb8608"/>
<path d="M449.1,222.1 472.5,227.9 485,231.8 485,241.6 433.4,241.6 433.4,233.8 449.1,233.8Z" fill="#e03420"/>
<path d="M472.5,232.8 480.3,235.7 485,239.6 485,243.5 472.5,241.6Z" fill="#fb8608"/>
<path d="M412,241.6 421.7,241.6 422.7,251.4 412,251.4Z" fill="#e03420"/>
<path d="M402.2,267 410,267 410,274.8 402.2,274.8Z" fill="#e03420"/>
<path d="M433.4,241.6 460.8,242.6 461.8,263.1 433.4,261.1Z" fill="#fb8608"/>
<path d="M461.8,247.5 468.6,247.5 469.6,262.1 461.8,262.1Z" fill="#fdd20a"/>
<path d="M469.6,245.5 485,245.5 485,261.1 469.6,262.1Z" fill="#e03420"/>
<path d="M433.4,262.1 441.2,262.1 441.2,268 433.4,268Z" fill="#cfcfcf"/>
<path d="M441.2,262.1 458.8,262.1 458.8,268.9 441.2,268.9Z" fill="#e03420"/>
<path d="M322.1,274.8 349.5,276.8 347.5,292.4 322.1,292.4Z" fill="#e03420"/>
<path d="M320.2,296.3 349.5,294.3 349.5,306.2 320.2,306.2Z" fill="#e03420"/>
<path d="M357.3,278.7 367,279.7 370,290.4 363.1,292.4 359.2,288.5Z" fill="#cfcfcf"/>
<path d="M367,276.8 402.2,280.7 404.1,292.4 419.8,292.4 421.7,288.5 430.5,288.5 430.5,306.2 372.9,306.2 370.9,292.4Z" fill="#e03420"/>
<path d="M285,292.4 306.5,296.3 304.5,306.2 285,306.2Z" fill="#e03420"/>
<path d="M470,183 517.8,183.2 519.1,234.2 510,245 470,245Z" fill="#e03420"/>
<path d="M581.9,166.2 660,160 660,250 651.1,249.8 607.8,252.9 597.9,232.4 586.9,216.1 573.2,207.2 574.2,193.6 579.6,180.9Z" fill="#e03420"/>
<path d="M507.5,183 517.2,183 517.2,202.5 512.3,202.5 507.5,196.7Z" fill="#950f6f"/>
<path d="M497.7,212.3 508.4,212.3 508.4,219.1 497.7,219.1Z" fill="#950f6f"/>
<path d="M508.4,220.1 517.2,220.1 517.2,233.8 508.4,233.8Z" fill="#950f6f"/>
<path d="M485,235.7 496.7,235.7 514.3,241.6 514.3,249.4 485,249.4Z" fill="#950f6f"/>
<path d="M519.2,220.1 532.9,220.1 532.9,232.8 519.2,232.8Z" fill="#950f6f"/>
<path d="M562.1,226.9 569,226.9 569,232.8 562.1,232.8Z" fill="#950f6f"/>
<path d="M522.1,186.9 537.7,186.9 537.7,193.7 522.1,193.7Z" fill="#fb8608"/>
<path d="M485,219.1 490.9,219.1 490.9,224 485,224Z" fill="#fb8608"/>
<path d="M582.7,187.9 590.5,187.9 590.5,207.4 582.7,207.4Z" fill="#950f6f"/>
<path d="M590.5,194.7 600.2,194.7 600.2,204.5 590.5,204.5Z" fill="#950f6f"/>
<path d="M584.6,183 612,183 612,187.9 584.6,187.9Z" fill="#950f6f"/>
<path d="M612,196.7 623.7,196.7 625.6,214.2 619.8,215.2 612,208.4Z" fill="#950f6f"/>
<path d="M633.4,206.4 641.2,206.4 641.2,214.2 633.4,214.2Z" fill="#950f6f"/>
<path d="M602.2,218.2 621.7,216.2 621.7,227.9 602.2,226.9Z" fill="#950f6f"/>
<path d="M586.6,210.3 591.4,210.3 591.4,219.1 586.6,219.1Z" fill="#950f6f"/>
<path d="M590.5,226 596.3,226 596.3,233.8 590.5,233.8Z" fill="#950f6f"/>
<path d="M643.2,204.5 653,204.5 653,210.3 643.2,210.3Z" fill="#950f6f"/>
<path d="M672.5,200.6 680.3,200.6 680.3,210.3 672.5,210.3Z" fill="#950f6f"/>
<path d="M641.2,222.1 647.1,222.1 647.1,233.8 641.2,233.8Z" fill="#950f6f"/>
<path d="M633.4,237.7 645.2,237.7 645.2,245.5 633.4,245.5Z" fill="#950f6f"/>
<path d="M610,245.5 619.8,245.5 619.8,251.4 610,251.4Z" fill="#950f6f"/>
<path d="M626.6,183 635.4,183 635.4,189.8 626.6,189.8Z" fill="#fb8608"/>
<path d="M673.5,212.3 681.3,212.3 681.3,219.1 673.5,219.1Z" fill="#fb8608"/>
<path d="M542.6,246.4 549,246.4 549,252.3 556.1,252.3 556.1,260.7 543.2,260.7Z" fill="#e03420"/>
<path d="M539.6,261.7 546.1,261.7 546.1,268.7 539.6,268.7Z" fill="#e03420"/>
<path d="M563.7,238.8 570.7,238.8 570.7,252.9 563.7,252.9Z" fill="#e03420"/>
<path d="M578.3,238.8 585.4,238.8 585.4,258.2 578.3,258.2Z" fill="#e03420"/>
<path d="M585.4,234.1 591.8,234.1 591.8,240.6 585.4,240.6Z" fill="#e03420"/>
<path d="M591.8,241.1 599.5,241.1 599.5,257 591.8,257Z" fill="#e03420"/>
<path d="M583,258.2 597.1,258.2 597.1,266.4 583,266.4Z" fill="#e03420"/>
<path d="M576,267.5 583,267.5 583,274.6 576,274.6Z" fill="#e03420"/>
<path d="M590.1,267.5 597.1,267.5 597.1,274.6 590.1,274.6Z" fill="#e03420"/>
<path d="M566.6,275.2 580.7,275.2 580.7,282.2 566.6,282.2Z" fill="#e03420"/>
<path d="M595.9,276.9 603,276.9 603,295.7 592.4,295.7 591.2,282.8Z" fill="#e03420"/>
<path d="M578.3,287.5 591.8,287.5 591.8,293.3 578.3,293.3Z" fill="#e03420"/>
<path d="M527.9,283.4 534.9,283.4 534.9,288.7 527.9,288.7Z" fill="#e03420"/>
<path d="M549,283.4 556.1,283.4 556.1,288.7 549,288.7Z" fill="#e03420"/>
<path d="M563.7,288.7 570.7,288.7 570.7,294.5 563.7,294.5Z" fill="#fb8608"/>
<path d="M583,294.5 588.9,294.5 588.9,300.4 583,300.4Z" fill="#fb8608"/>
<path d="M530.8,296.3 537.9,296.3 538.5,301.6 532,301.6Z" fill="#fdd20a"/>
<path d="M538.5,297.4 546.7,297.4 546.7,304 538.5,304Z" fill="#e03420"/>
<path d="M560.7,296.3 566.6,296.3 566.6,302.1 560.7,302.1Z" fill="#e03420"/>
<path d="M515,253.5 518.5,253.5 519.1,259.3 515,259.3Z" fill="#e03420"/>
<path d="M604.1,276.9 614.7,273.4 615.9,260.5 608.8,252.3 635,251.1 635,304 595.9,304 595.9,295.7 604.1,285.1Z" fill="#e03420"/>
<path d="M635,250 655,250 653,310 635,310Z" fill="#e03420"/>
<path d="M625.6,280.7 639.3,280.7 639.3,300.2 625.6,300.2Z" fill="#950f6f"/>
<path d="M626.4,264 635,264 635,273.4 626.4,273.4Z" fill="#950f6f"/>
<path d="M624.1,279.3 632.3,281.6 633.5,300.4 624.1,300.4Z" fill="#950f6f"/>
<path d="M611.2,245.8 618.2,245.8 618.2,251.7 611.2,251.7Z" fill="#950f6f"/>
<path d="M655,160 745,160 745,250 719.4,259.2 698.4,261.9 661.7,264.5Z" fill="#e03420"/>
<path d="M710.4,218.2 719.2,218.2 719.2,226.9 710.4,226.9Z" fill="#950f6f"/>
<path d="M696.7,255.3 712.3,253.3 713.3,259.2 696.7,260.1Z" fill="#950f6f"/>
<path d="M694.8,276.8 700.6,276.8 700.6,284.6 694.8,284.6Z" fill="#e03420"/>
<path d="M688.9,290.4 695.7,290.4 695.7,297.3 688.9,297.3Z" fill="#e03420"/>
<path d="M757.3,265 765.1,265 765.1,269.9 757.3,269.9Z" fill="#e03420"/>
<path d="M778.8,255.3 785.6,255.3 786.6,264.1 778.8,264.1Z" fill="#e03420"/>
<path d="M770.9,272.8 780.7,272.8 780.7,281.6 771.9,281.6Z" fill="#e03420"/>
<path d="M786.6,265 794.4,265 802.2,267 804.1,274.8 792.4,278.7 786.6,274.8Z" fill="#e03420"/>
<path d="M802.2,257.2 813.9,258.2 810,265 802.2,265Z" fill="#e03420"/>
<path d="M804.1,216.2 812,216.2 812,226 825.6,218.2 830.5,218.2 830.5,225 819.8,229.9 810,235.7 804.1,235.7Z" fill="#e03420"/>
<path d="M808,235.7 830.5,234.8 829.5,243.5 810,246.5Z" fill="#e03420"/>
<path d="M839.3,220.1 852,219.1 853,226.9 855.9,236.7 850,239.6 845.2,233.8 839.3,229.9Z" fill="#e03420"/>
<path d="M848.1,183 860.8,183 860.8,188.9 848.1,188.9Z" fill="#e03420"/>
<path d="M864.7,183 878.4,183 878.4,204.5 872.5,206.4 868.6,196.7 864.7,194.7Z" fill="#e03420"/>
<path d="M868.6,208.4 885,206.4 885,220.1 872.5,221.1 868.6,214.2Z" fill="#e03420"/>
<path d="M881.3,227.9 885,227.9 885,233.8 881.3,233.8Z" fill="#e03420"/>
<path d="M851,255.3 858.8,255.3 860.8,265 854.9,265Z" fill="#e03420"/>
<path d="M839.3,265 854.9,265 849.1,278.7 841.2,278.7Z" fill="#e03420"/>
<path d="M815.9,284.6 841.2,283.6 837.3,300.2 829.5,296.3 815.9,292.4Z" fill="#e03420"/>
<path d="M782.7,300.2 796.3,298.2 794.4,306.2 782.7,306.2Z" fill="#e03420"/>
<path d="M796.3,289.4 806.1,288.5 804.1,294.3Z" fill="#e03420"/>
<path d="M887.3,148.9 898,182.9 905,192.5 976.9,183.4 938.1,64.5 868.5,85.1Z" fill="#e03420"/>
<path d="M847.4,175.2 857.2,161.6 882.6,156.7 884.5,183.2 847.4,183.2Z" fill="#e03420"/>
<path d="M867,159.6 877.7,158.6 880.6,183.2 870.9,183.2Z" fill="#fb8608"/>
<path d="M849.4,183 860.1,183 860.1,189.8 849.4,189.8Z" fill="#e03420"/>
<path d="M863.1,183 878.7,183 877.7,206.4 870.9,207.4 867,194.7 863.1,190.8Z" fill="#e03420"/>
<path d="M868.9,208.4 880.6,206.4 882.6,216.2 874.8,222.1 869.9,222.1Z" fill="#e03420"/>
<path d="M881.6,228.9 888.5,228.9 888.5,235.7 884.5,236.7Z" fill="#e03420"/>
<path d="M896.3,226 903.1,226 902.1,231.8 897.2,231.8Z" fill="#e03420"/>
<path d="M131.9,306 149.5,306 145.5,313.8 133.8,316.7Z" fill="#e03420"/>
<path d="M163.1,306 182.7,306 180.7,317.7 179.7,332.4Z" fill="#cfcfcf"/>
<path d="M280.3,306 285,306 285,319.7 280.3,319.7Z" fill="#e03420"/>
<path d="M285,306 300.6,306 298.7,321.6 285,320.6Z" fill="#e03420"/>
<path d="M359.2,311.9 376.8,309.9 378.8,306 402.2,306 402.2,313.8 394.4,325.5 394.4,341.2 386.6,347 382.7,339.2 376.8,337.2 367,337.2 361.2,329.4Z" fill="#e03420"/>
<path d="M410,306 427.6,306 427.6,324.6 412,324.6Z" fill="#e03420"/>
<path d="M347.5,331.4 367,333.3 369,343.1 365.1,349 359.2,347 347.5,341.2Z" fill="#e03420"/>
<path d="M328.9,330.4 337.7,331.4 337.7,339.2 331.9,339.2Z" fill="#e03420"/>
<path d="M323.1,350.9 337.7,346 339.7,353.9 349.5,352.9 365.1,354.8 365.1,361.7 328,356.8Z" fill="#e03420"/>
<path d="M394.4,341.2 404.1,341.2 405.1,351.9 394.4,351.9Z" fill="#e03420"/>
<path d="M414.9,341.2 426.6,341.2 426.6,352.9 414.9,352.9Z" fill="#e03420"/>
<path d="M369,336.3 378.8,337.2 380.7,345.1 388.5,348 382.7,354.8 376.8,354.8 372.9,362.6 365.1,361.7 365.1,355.8 370.9,349 370.9,343.1Z" fill="#fb8608"/>
<path d="M427.6,341.2 435.4,341.2 435.4,352.9 427.6,352.9Z" fill="#fb8608"/>
<path d="M429.5,323.6 447.1,323.6 447.1,333.3 429.5,333.3Z" fill="#fb8608"/>
<path d="M458.8,306 468.6,306 468.6,315.8 458.8,315.8Z" fill="#fb8608"/>
<path d="M476.4,306 485,306 485,315.8 476.4,315.8Z" fill="#e03420"/>
<path d="M457.9,333.3 467.6,333.3 467.6,343.1 457.9,343.1Z" fill="#e03420"/>
<path d="M468.6,325.5 476.4,325.5 477.4,333.3 468.6,333.3Z" fill="#e03420"/>
<path d="M466.6,347 476.4,347 476.4,354.8 466.6,354.8Z" fill="#cfcfcf"/>
<path d="M466.6,361.7 476.4,361.7 476.4,369.5 467.6,369.5Z" fill="#a3c563"/>
<path d="M456.9,350.9 466.6,350.9 466.6,359.7 456.9,359.7Z" fill="#e03420"/>
<path d="M477.4,343.1 485,343.1 485,360.7 477.4,360.7Z" fill="#e03420"/>
<path d="M331.9,376.3 349.5,378.3 355.3,384.1 367,380.2 382.7,384.1 386.6,391.9 400.2,395.8 403.2,407.6 394.4,415.4 390.5,429.2 386.6,429.2 387.5,415.4 386.6,403.7 369,403.7 363.1,397.8 355.3,395.8 349.5,397.8 335.8,393.9 331.9,388Z" fill="#e03420"/>
<path d="M304.5,399.8 335.8,393.9 349.5,397.8 363.1,397.8 369,403.7 367,415.4 369,429.2 300.6,429.2Z" fill="#e03420"/>
<path d="M361.2,362.6 372.9,364.6 372.9,370.5 367,382.2 360.2,378.3Z" fill="#e03420"/>
<path d="M392.4,366.5 410,368.5 408,393.9 402.2,395.8 394.4,388 392.4,380.2Z" fill="#fb8608"/>
<path d="M385.6,381.2 394.4,381.2 402.2,388 402.2,397.8 398.3,399.8 388.5,391.9 385.6,388Z" fill="#cfcfcf"/>
<path d="M290.9,423.2 296.7,423.2 296.7,429.2 290.9,429.2Z" fill="#e03420"/>
<path d="M421.7,405.6 429.5,405.6 429.5,415.4 421.7,415.4Z" fill="#e03420"/>
<path d="M423.7,415.4 431.5,415.4 431.5,425.1 423.7,425.1Z" fill="#e03420"/>
<path d="M406.1,415.4 413.9,415.4 413.9,423.2 406.1,423.2Z" fill="#e03420"/>
<path d="M421.7,388 431.5,388 431.5,397.8 421.7,397.8Z" fill="#fb8608"/>
<path d="M459.8,410.5 470.5,409.5 472.5,421.2 466.6,425.1 460.8,421.2Z" fill="#e03420"/>
<path d="M512.3,308.9 521.1,308.9 521.1,316.7 512.3,316.7Z" fill="#e03420"/>
<path d="M494.8,314.8 503.6,314.8 503.6,322.6 494.8,322.6Z" fill="#e03420"/>
<path d="M509.4,317.7 514.3,317.7 519.2,325.5 512.3,326.5Z" fill="#e03420"/>
<path d="M528.9,308.9 535.8,308.9 539.7,317.7 531.9,317.7Z" fill="#e03420"/>
<path d="M494.8,329.4 503.6,329.4 503.6,337.2 494.8,337.2Z" fill="#e03420"/>
<path d="M533.8,327.5 539.7,327.5 540.7,333.3 533.8,333.3Z" fill="#e03420"/>
<path d="M512.3,339.2 520.2,339.2 520.2,348 512.3,348Z" fill="#e03420"/>
<path d="M540.7,342.1 547.5,342.1 547.5,349 540.7,349Z" fill="#e03420"/>
<path d="M516.2,364.6 525,364.6 525,370.5 516.2,370.5Z" fill="#e03420"/>
<path d="M569,313.8 577.8,313.8 576.8,321.6 571.9,321.6Z" fill="#e03420"/>
<path d="M595.4,324.6 601.2,324.6 601.2,332.4 596.3,332.4Z" fill="#e03420"/>
<path d="M587.5,342.1 596.3,342.1 596.3,348 587.5,348Z" fill="#e03420"/>
<path d="M572.9,335.3 576.8,337.2 582.7,348 582.7,352.9 574.8,360.7 557.3,364.6 557.3,351.9 565.1,351.9 570.9,345.1Z" fill="#e03420"/>
<path d="M602.2,348 615.9,347 619.8,352.9 626.6,356.8 625.6,366.5 613.9,366.5 612,372.4 604.1,370.5 602.2,356.8Z" fill="#e03420"/>
<path d="M612,308 621.7,306 658.8,306 660.8,325.5 656.9,335.3 653,349 647.1,353.9 629.5,353.9 629.5,347 639.3,343.1 643.2,333.3 633.4,331.4 629.5,325.5 621.7,323.6 614.9,323.6Z" fill="#e03420"/>
<path d="M610,315.8 617.8,315.8 617.8,327.5 610,327.5Z" fill="#e03420"/>
<path d="M653,354.8 658.8,355.8 657.9,368.5 653,366.5Z" fill="#e03420"/>
<path d="M658.8,378.3 665.7,379.2 665.7,382.2 659.8,382.2Z" fill="#e03420"/>
<path d="M664.7,309.9 669.6,309.9 669.6,317.7 664.7,317.7Z" fill="#e03420"/>
<path d="M674.5,313.8 685,313.8 685,321.6 674.5,321.6Z" fill="#e03420"/>
<path d="M576.8,389 586.6,389 590.5,381.2 602.2,380.2 604.1,391.9 608,393.9 608,402.7 600.2,402.7 594.4,397.8 582.7,397.8 576.8,395.8Z" fill="#e03420"/>
<path d="M621.7,376.3 625.6,376.3 625.6,388 620.7,388Z" fill="#e03420"/>
<path d="M566.1,349 571.9,349 571.9,352.9 566.1,352.9Z" fill="#fb8608"/>
<path d="M689.9,309.9 695.7,309.9 695.7,316.7 689.9,316.7Z" fill="#e03420"/>
<path d="M749.5,319.7 757.3,311.9 763.1,313.8 765.1,319.7 770.9,317.7 774.8,315.8 779.7,317.7 778.8,325.5 772.9,329.4 774.8,337.2 770.9,345.1 763.1,348 756.3,344.1 759.2,333.3 753.4,327.5 750.4,325.5Z" fill="#e03420"/>
<path d="M777.8,344.1 783.6,342.1 784.6,348 779.7,349.9Z" fill="#e03420"/>
<path d="M804.1,319.7 812,319.7 813.9,327.5 808,329.4Z" fill="#e03420"/>
<path d="M839.3,317.7 844.2,317.7 845.2,322.6 840.3,322.6Z" fill="#e03420"/>
<path d="M801.2,362.6 812,361.7 812.9,368.5 810,372.4 802.2,376.3 800.2,372.4Z" fill="#e03420"/>
<path d="M822.7,372.4 829.5,372.4 830.5,379.2 824.6,380.2Z" fill="#e03420"/>
<path d="M845.2,384.1 853,379.2 859.8,377.3 854.9,387.1 847.1,388Z" fill="#e03420"/>
<path d="M733.8,366.5 738.7,366.5 737.7,370.5Z" fill="#e03420"/>
<path d="M759.2,367.5 765.1,367.5 766.1,371.4 760.2,372.4Z" fill="#e03420"/>
<path d="M727,391 733.8,391 732.9,394.9 728,394.9Z" fill="#e03420"/>
<path d="M292.8,429 299.6,429 298.7,448.5 293.8,448.5Z" fill="#e03420"/>
<path d="M300.6,429 349.5,429 349.5,434.9 345.5,448.5 324.1,450.5 320.2,452.4 310.4,454.4 310.4,464.2 305.5,464.2 304.5,448.5 300.6,446.6Z" fill="#e03420"/>
<path d="M345.5,437.8 363.1,440.7 363.1,458.3 370,460.2 370,467.1 343.6,466.1Z" fill="#e03420"/>
<path d="M391.4,429 404.1,429 403.2,437.8 394.4,437.8Z" fill="#e03420"/>
<path d="M439.3,429 448.1,429 448.1,435.8 440.3,435.8Z" fill="#e03420"/>
<path d="M429.5,444.6 437.3,444.6 437.3,452.4 429.5,452.4Z" fill="#e03420"/>
<path d="M461.8,486.6 470.5,486.6 470.5,497.4 461.8,497.4Z" fill="#e03420"/>
<path d="M426.6,453.4 435.4,453.4 435.4,462.2 426.6,462.2Z" fill="#cfcfcf"/>
<path d="M387.5,471 396.3,471 395.4,477.8 389.5,477.8Z" fill="#cfcfcf"/>
<path d="M537.7,436.8 546.5,439.7 547.5,447.6 538.7,447.6Z" fill="#e03420"/>
<path d="M528,448.5 536.8,447.6 536.8,455.4 528.9,455.4Z" fill="#e03420"/>
<path d="M552.4,430 558.2,430 559.2,438.8 553.4,437.8Z" fill="#e03420"/>
<path d="M535.8,473.9 543.6,473.9 543.6,487.6 539.7,487.6 536.8,481.7Z" fill="#e03420"/>
<path d="M554.3,483.7 561.2,484.7 560.2,494.4 555.3,494.4Z" fill="#e03420"/>
<path d="M570,489.5 581.7,489.5 582.7,498.3 570.9,499.3Z" fill="#e03420"/>
<path d="M578.8,499.3 586.6,499.3 586.6,508.1 577.8,508.1Z" fill="#e03420"/>
<path d="M586.6,507.1 594.4,507.1 594.4,514.9 588.5,515.9Z" fill="#e03420"/>
<path d="M593.4,499.3 601.2,500.3 602.2,507.1 594.4,509.1Z" fill="#e03420"/>
<path d="M580.7,473.9 590.5,472 592.4,469 596.3,471 597.3,479.8 594.4,487.6 590.5,487.6 590.5,480.8 580.7,480.8Z" fill="#e03420"/>
<path d="M598.3,468.1 604.1,465.1 607.1,456.3 610,456.3 613.9,466.1 610,470 604.1,470 602.2,475.9 598.3,476.9Z" fill="#e03420"/>
<path d="M604.1,489.5 612.9,488.6 612.9,494.4 605.1,495.4Z" fill="#e03420"/>
<path d="M600.2,518.8 608,518.8 613.9,524.7 610,528.6 604.1,524.7Z" fill="#e03420"/>
<path d="M621.7,510.1 629.5,509.1 629.5,514.9 623.7,516.9Z" fill="#e03420"/>
<path d="M633.4,512 639.3,512 639.3,515.9 634.4,515.9Z" fill="#e03420"/>
<path d="M633.4,446.6 641.2,445.6 641.2,451.5 635.4,451.5Z" fill="#e03420"/>
<path d="M652,483.7 658.8,483.7 658.8,491.5 653,491.5Z" fill="#e03420"/>
<path d="M658.8,450.5 666.6,458.3 663.7,475.9 658.8,476.9Z" fill="#e03420"/>
<path d="M799.3,521.8 807.1,520.8 810,534.5 807.1,540.3 803.2,538.4Z" fill="#e03420"/>
<path d="M767,539.4 770.9,539.4 774.8,546.2 770.9,551.1 768,546.2Z" fill="#e03420"/>
<path d="M792.4,546.2 800.2,546.2 802.2,552.2 791.4,552.2Z" fill="#e03420"/>
<path d="M800.4,521.6 806.7,521.6 809.8,529.4 811.4,538.8 806.7,540.4 804.3,532.5Z" fill="#e03420"/>
<path d="M767.5,538.8 770.6,538.8 773.7,545.1 772.2,551.4 769,546.7Z" fill="#e03420"/>
<path d="M773.7,554.5 780,554.5 784.7,557.6 794.1,556.1 792.5,547.5 798.8,546.7 803.5,552.9 800.4,556.1 795.7,557.6 794.1,565.5 787.8,565.5 783.1,567.1 778.4,562.4Z" fill="#e03420"/>
<path d="M808.2,556.1 817.6,551.4 821.6,556.1 809.8,559.2Z" fill="#e03420"/>
<path d="M791,574.9 797.3,570.2 802,570.2 803.5,574.1 809.8,574.1 811.4,582.7 812.9,596.9 808.2,596.9 803.5,589 794.1,582.7Z" fill="#e03420"/>
<path d="M791,611 800.4,604.7 809.8,603.1 822.4,592.2 825.5,593.7 812.9,601.6 802,607.8 794.1,611.8Z" fill="#e03420"/>
<path d="M479.3,574.9 488,574.9 488,584.5 480.2,584.5Z" fill="#e03420"/>
<path d="M689.1,188.5 702.9,188 703.4,195.4 689.1,195.9Z" fill="#fb8608"/>
<path d="M683.2,196.3 690.1,196.3 690.1,203.2 683.2,203.2Z" fill="#fb8608"/>
<path d="M704.8,193.4 712.7,193.4 713.2,200.3 704.8,200.8Z" fill="#fb8608"/>
<path d="M673.4,212.1 681.3,212.1 681.3,218.9 673.9,218.9Z" fill="#fb8608"/>
<path d="M697,195.4 703.9,195.4 703.9,201.3 697,201.3Z" fill="#950f6f"/>
<path d="M669.5,200.3 676.3,199.8 676.3,204.2 669.5,204.2Z" fill="#950f6f"/>
<path d="M677.3,204.2 691.1,204.2 691.1,210.1 677.3,210.1Z" fill="#950f6f"/>
<path d="M711.7,218 718.6,218 718.6,222 711.7,222Z" fill="#950f6f"/>
<path d="M647.9,204.2 652.8,204.2 652.3,210.1 647.9,210.1Z" fill="#950f6f"/>
<path d="M653.8,164.9 660.6,163.9 660.6,170.8 654.7,170.8Z" fill="#950f6f"/>
<path d="M671.4,160 680.3,160 680.3,167.9 671.4,167.9Z" fill="#950f6f"/>
<path d="M660.6,167.9 671.4,164.9 671.9,174.7 665.5,179.6 663.6,177.7Z" fill="#fb8608"/>
<path d="M438.1,182.6 460.9,182.6 460.9,204.2 471.1,205.5 471.1,218.2 450.8,218.2 449.5,225.8 438.1,225.8Z" fill="#e03420"/>
<path d="M486.3,182.6 507.9,182.6 509.2,200.4 519.3,202.9 518.7,218.2 507.9,218.2 507.9,233.4 488.9,233.4 487.6,223.2 476.2,218.2 486.3,216.9Z" fill="#e03420"/>
<path d="M460.9,189 471.1,182.6 485.1,182.6 485.1,202.9 476.2,204.2 471.1,205.5 460.9,204.2Z" fill="#950f6f"/>
<path d="M450.8,218.2 471.1,218.2 474.9,225.8 471.1,230.9 466,228.3 450.8,225.8Z" fill="#950f6f"/>
<path d="M499,211.8 507.9,211.8 507.9,219.4 499,219.4Z" fill="#950f6f"/>
<path d="M495.2,233.4 505.4,233.4 505.4,241 495.2,241Z" fill="#950f6f"/>
<path d="M509.2,218.2 518.1,218.2 518.1,233.4 509.2,233.4Z" fill="#950f6f"/>
<path d="M507.9,182.6 516.8,182.6 514.3,189 519.3,202.9 509.2,200.4Z" fill="#950f6f"/>
<path d="M474.9,230.9 488.9,241 493.9,248 478.7,248.6 472.4,243.6 473.6,235.9Z" fill="#950f6f"/>
<path d="M507.9,238.5 516.8,238.5 516.8,251.2 507.9,251.2Z" fill="#950f6f"/>
<path d="M476.2,204.2 485.1,204.2 486.3,218.2 476.2,218.2Z" fill="#fb8608"/>
<path d="M472.4,233.4 478.7,233.4 487.6,244.2 473.6,243.6Z" fill="#fb8608"/>
<path d="M471.1,204.2 476.2,204.2 476.2,218.2 471.1,218.2Z" fill="#cfcfcf"/>
<path d="M487.6,223.2 507.9,223.2 507.9,233.4 493.9,233.4 488.9,235.9Z" fill="#e03420"/>
<path d="M433.6,206.7 449.5,206.7 449.5,218.2 447,233.4 433.6,233.4Z" fill="#fb8608"/>
<path d="M245.4,110 413.4,110 412.4,196.9 304,185.2 300.1,190.1 276.6,188.1 270.8,163.7 257.1,162.7 263,143.2Z" fill="#950f6f"/>
<path d="M284.5,110 309.8,110 307.9,115.9 288.4,113.9Z" fill="#e03420"/>
<path d="M298.1,129.5 311.8,121.7 309.8,117.8 319.6,117.8 337.2,117.8 335.2,131.5 325.5,135.4 317.7,137.3 313.8,143.2 302,141.2Z" fill="#e03420"/>
<path d="M304,143.2 317.7,137.3 329.4,145.2 337.2,153 341.1,164.7 325.5,166.6 321.6,182.3 315.7,178.4 317.7,164.7 307.9,158.8Z" fill="#fb8608"/>
<path d="M339.1,153 356.7,156.9 356.7,166.6 364.5,174.5 368.4,188.1 345,188.1 337.2,176.4 343,168.6Z" fill="#e03420"/>
<path d="M376.2,156.9 391.9,160.8 395.8,166.6 391.9,195.9 376.2,192Z" fill="#e03420"/>
<path d="M305.9,162.7 317.7,164.7 317.7,178.4 309.8,184.2 305.9,176.4Z" fill="#e03420"/>
<path d="M268.8,143.2 280.5,142.2 278.6,158.8 270.8,158.8Z" fill="#e03420"/>
<path d="M284.5,151 296.2,151 300.1,164.7 288.4,166.6 280.5,161.8Z" fill="#e03420"/>
<path d="M395.8,131.5 411.4,133.4 411.4,149.1 401.6,147.1Z" fill="#e03420"/>
<path d="M356.7,137.3 378.2,133.4 380.2,154.9 356.7,153.9Z" fill="#fb8608"/>
<path d="M345,141.2 356.7,137.3 356.7,154.9 345,153Z" fill="#cfcfcf"/>
<path d="M380.2,149.1 391.9,151 399.7,158.8 395.8,163.7 386,160.8Z" fill="#a3c563"/>
<path d="M397.7,162.7 407.5,162.7 408.5,176.4 398.7,176.4Z" fill="#fdd20a"/>
<path d="M395.8,174.5 407.5,172.5 407.5,195.9 395.8,195.9Z" fill="#cfcfcf"/>
<path d="M409.5,178.4 420,178.4 420,194 409.5,194Z" fill="#fb8608"/>
<path d="M251.2,166.6 264.9,163.7 270.8,184.2 276.6,194 268.8,195.9 259.1,184.2Z" fill="#fdd20a"/>
<path d="M241.5,182.3 253.2,178.4 266.9,188.1 268.8,199.8 261,207.7 249.3,197.9Z" fill="#fb8608"/>
<path d="M272.7,194 284.5,191.1 294.2,192 288.4,199.8 274.7,201.8Z" fill="#cfcfcf"/>
<path d="M266.9,201.8 284.5,201.8 296.2,215.5 298.1,227.2 282.5,233.2 268.8,233.2 263,211.6Z" fill="#e03420"/>
<path d="M237.6,211.6 245.4,211.6 243.4,223.3 237.6,221.3Z" fill="#e03420"/>
<path d="M253.2,217.4 263,217.4 259.1,229.1 253.2,227.2Z" fill="#e03420"/>
<path d="M604.2,168 610.5,163.3 626.2,157.1 626.2,177.5 610.5,175.9Z" fill="#950f6f"/>
<path d="M582.3,177.5 601.1,177.5 612.1,180.6 612.1,191.6 601.1,191.6 601.1,204.1 582.3,204.1Z" fill="#950f6f"/>
<path d="M630.9,158.6 639.5,158.6 640.3,168 631.7,168Z" fill="#fb8608"/>
<path d="M627,177.5 635.6,177.5 636.4,190 627,190Z" fill="#fb8608"/>
<path d="M388.8,401.7 404.6,394.6 406.4,414 402.9,438.6 392.3,435.1 390.6,419.3Z" fill="#e03420"/>
<path d="M599.4,249.4 657.5,249.4 657.5,260.4 655.9,287.1 660.6,339 590,339 590,291.8 599.4,287.1Z" fill="#950f6f"/>
<path d="M605.7,240 649.6,240 657.5,260.4 655.9,287.1 659,305.9 660.6,334.1 641.8,339 630.8,334.1 613.5,334.1 610.4,324.7 599.4,307.5 596.3,293.3 599.4,287.1 604.1,276.1 613.5,271.4 615.1,258.8 607.3,247.8Z" fill="#e03420"/>
<path d="M599.4,291.8 610.4,294.9 613.5,307.5 599.4,307.5Z" fill="#950f6f"/>
<path d="M624.5,266.7 637.1,265.1 641.8,280.8 633.9,287.1 626.1,282.4Z" fill="#950f6f"/>
<path d="M649.6,291.8 657.5,291.8 659,305.9 652.7,305.9Z" fill="#950f6f"/>
<path d="M615.1,309 629.2,313.7 626.1,327.8 616.7,325.5Z" fill="#950f6f"/>
<path d="M637.1,299.6 646.5,301.2 644.9,310.6 637.1,309Z" fill="#950f6f"/>
<path d="M590,240 599.4,240 599.4,249.4 590,249.4Z" fill="#e03420"/>
<path d="M590,254.1 596.3,254.1 596.3,260.4 590,260.4Z" fill="#e03420"/>
<path d="M590,266.7 599.4,266.7 599.4,274.5 590,274.5Z" fill="#e03420"/>
<path d="M594.7,323.1 601,323.1 601,331 594.7,331Z" fill="#e03420"/>
<path d="M695.9,278.4 699.8,278.4 699.8,285.5 695.9,285.5Z" fill="#e03420"/>
<path d="M676.3,255.7 682.5,255.7 682.5,260.4 676.3,260.4Z" fill="#950f6f"/>
<path d="M631.3,237 645.6,237 645.6,245.6 632.8,245.6Z" fill="#950f6f"/>
<path d="M611.4,245.6 618.5,245.6 618.5,251.3 611.4,251.3Z" fill="#950f6f"/>
<path d="M590,225.6 596.4,225.6 596.4,231.3 590,231.3Z" fill="#950f6f"/>
<path d="M604.2,181.4 612.8,181.4 612.8,191.4 604.2,191.4Z" fill="#950f6f"/>
<path d="M644.2,221.4 649.9,221.4 649.9,229.9 644.2,229.9Z" fill="#950f6f"/>
<path d="M887.6,147.6 891.4,144.3 893.8,156.6 906.1,160.4 911.8,173.7 906.1,190.8 898.5,190.8Z" fill="#950f6f"/>
<path d="M879,157.6 883.3,157.6 883.3,169.9 879.5,171.8Z" fill="#e03420"/>
<path d="M879.5,170.9 888.5,171.8 890,179.4 885.2,187 878.6,187Z" fill="#e03420"/>
<g opacity="0.24"><rect x="60" y="50" width="240" height="580" fill="url(#cA)"/><rect x="300" y="50" width="110" height="580" fill="url(#cB)"/><rect x="410" y="50" width="135" height="190" fill="url(#cH)"/><rect x="410" y="240" width="135" height="390" fill="url(#cG)"/><rect x="545" y="50" width="155" height="580" fill="url(#cC)"/><rect x="700" y="235" width="270" height="395" fill="url(#cD)"/><rect x="700" y="50" width="160" height="185" fill="url(#cD)"/><rect x="860" y="50" width="110" height="185" fill="url(#cE)"/></g>
</g>
<path d="M126.8,117.5 134.7,121.4 141.2,125.0 141.1,135.8 146.7,137.4 152.7,137.6 162.2,141.7 172.6,142.4 190.6,142.3 195.6,141.8 195.6,141.8 202.8,143.6 210.1,145.3 217.4,147.0 224.7,148.6 M236.6,87.6 224.9,139.7 225.1,144.5 224.7,148.6 M224.7,148.6 228.8,158.1 221.1,169.2 213.8,178.3 215.7,183.0 214.2,191.3 204.7,230.0 M97.9,201.7 105.3,203.9 112.8,206.2 120.3,208.3 127.8,210.5 135.3,212.6 142.8,214.6 150.3,216.7 157.9,218.6 165.4,220.6 173.0,222.5 180.5,224.3 188.1,226.2 195.7,227.9 203.3,229.7 210.9,231.4 218.5,233.0 226.2,234.6 233.8,236.2 241.4,237.8 249.1,239.3 256.7,240.7 264.4,242.1 272.1,243.5 279.7,244.8 287.4,246.1 295.1,247.4 M160.3,219.3 144.5,280.4 212.1,382.2 M212.1,382.2 217.3,398.3 208.6,411.6 201.3,428.9 M212.1,382.2 214.5,360.8 226.2,361.4 229.8,342.8 249.8,239.4 M229.8,342.8 237.9,344.3 246.0,345.8 254.1,347.2 262.3,348.7 270.4,350.0 278.6,351.3 286.7,352.6 294.9,353.9 303.1,355.1 311.2,356.2 319.4,357.3 327.6,358.4 335.8,359.4 344.0,360.4 352.2,361.3 360.4,362.2 368.6,363.1 376.9,363.9 385.1,364.6 393.3,365.4 401.5,366.0 409.8,366.7 418.0,367.3 426.3,367.8 M250.0,90.5 245.6,110.4 248.5,121.8 253.3,130.0 258.3,140.0 263.9,142.8 259.4,155.5 256.6,163.3 265.5,163.3 269.4,177.7 274.4,192.1 293.3,192.1 299.9,189.9 303.5,195.5 M305.0,185.3 303.2,196.6 M303.4,195.6 295.1,247.4 M295.1,247.4 291.8,268.1 291.8,268.1 299.5,269.3 307.2,270.5 315.0,271.6 322.7,272.7 330.4,273.8 338.2,274.8 345.9,275.8 353.7,276.7 361.5,277.6 369.2,278.4 377.0,279.2 384.8,280.0 392.5,280.7 400.3,281.4 408.1,282.0 415.9,282.6 423.7,283.2 431.5,283.7 M322.7,272.7 294.8,474.3 M305.0,185.3 312.3,186.4 319.6,187.5 326.9,188.6 334.2,189.6 341.5,190.6 348.8,191.6 356.1,192.5 363.4,193.3 370.8,194.2 378.1,195.0 385.4,195.7 392.7,196.5 400.1,197.1 407.4,197.8 M414.4,115.0 400.3,281.4 M431.5,283.7 426.1,367.8 M430.1,304.7 438.3,305.2 446.5,305.7 454.7,306.1 462.9,306.5 471.1,306.8 479.3,307.1 487.6,307.3 495.8,307.5 504.0,307.6 512.2,307.7 520.4,307.8 528.6,307.8 536.8,307.7 M339.2,465.7 401.7,471.5 409.0,377.2 410.5,366.7 M409.0,377.2 417.4,377.8 425.8,378.3 434.2,378.8 442.6,379.3 451.0,379.7 459.4,380.1 457.7,420.9 467.8,424.7 476.2,429.2 489.9,431.2 498.4,437.1 506.9,439.7 515.6,436.2 525.9,438.3 534.5,436.2 544.9,441.6 559.7,443.3 M559.7,443.3 560.4,476.0 569.6,496.5 567.2,509.1 564.8,523.4 M409.1,178.2 416.8,178.9 424.6,179.5 432.3,180.0 440.1,180.5 447.8,181.0 455.6,181.4 463.4,181.8 471.1,182.1 478.9,182.4 486.7,182.6 494.4,182.8 502.2,183.0 510.0,183.1 517.8,183.2 M508.9,119.6 509.7,140.3 514.0,161.1 517.2,181.9 517.8,183.2 519.3,196.5 519.1,234.2 M403.9,239.5 411.5,240.1 419.1,240.7 426.8,241.3 434.4,241.8 442.1,242.2 449.7,242.7 457.4,243.1 465.0,243.4 472.7,243.7 480.3,244.0 488.0,244.2 495.4,249.6 504.6,247.7 510.7,249.2 519.0,255.4 518.3,244.7 519.1,234.2 M519.1,234.2 527.0,234.2 534.9,234.2 542.8,234.1 550.6,234.0 558.5,233.8 566.4,233.6 574.3,233.4 582.1,233.1 590.0,232.8 597.9,232.4 M597.9,232.4 586.9,216.1 577.8,210.2 573.2,207.2 574.2,193.6 571.8,186.4 579.6,180.9 579.1,168.4 581.9,166.2 M519.0,255.4 522.8,265.7 525.9,276.2 527.5,282.5 529.5,295.6 536.8,307.7 540.3,318.2 548.3,326.6 548.7,370.8 548.8,381.4 M529.5,295.6 537.4,295.5 545.4,295.4 553.3,295.3 561.2,295.1 569.2,294.9 577.1,294.7 585.0,294.4 593.0,294.1 598.0,298.0 M597.9,232.4 607.4,248.7 607.8,252.9 615.4,267.2 611.1,273.7 603.5,276.3 602.8,293.2 598.0,298.0 600.5,310.1 611.8,326.4 619.4,332.3 626.0,346.7 632.5,358.9 638.5,366.9 633.8,377.8 631.2,388.6 626.5,406.8 624.1,410.1 619.5,418.8 613.4,431.8 609.8,453.0 615.3,467.5 605.6,484.7 604.3,495.3 M604.3,495.3 615.4,494.7 626.5,494.1 637.6,493.4 641.1,509.9 M548.8,381.4 558.1,381.2 567.4,381.0 576.7,380.7 585.9,380.4 595.2,380.0 604.5,379.6 613.8,379.1 623.0,378.5 620.0,389.3 631.2,388.6 M548.8,381.4 552.4,404.5 552.1,441.5 M560.0,454.4 569.9,454.1 579.9,453.9 589.9,453.5 599.9,453.1 609.8,452.6 M426.3,367.8 435.0,368.3 443.7,368.8 452.5,369.3 461.2,369.6 469.9,370.0 478.7,370.3 487.4,370.5 496.2,370.7 504.9,370.8 513.7,370.9 522.4,371.0 531.2,371.0 539.9,370.9 548.7,370.8 M638.5,366.9 649.4,364.0 655.3,355.1 655.9,348.7 664.2,344.8 679.1,346.6 688.0,337.2 691.9,335.7 699.7,325.3 704.8,316.2 709.9,315.6 718.7,320.9 730.4,323.6 742.2,326.2 748.7,314.6 753.9,311.7 759.8,302.3 765.9,294.9 766.9,286.2 767.8,274.6 M655.9,348.7 660.8,333.5 661.4,322.8 661.1,315.4 656.6,264.9 M607.8,252.9 616.5,252.4 625.1,251.8 633.8,251.2 642.4,250.5 651.1,249.8 M704.8,316.2 698.4,261.9 M661.7,264.5 670.8,263.6 680.0,262.6 689.1,261.7 698.2,260.6 719.4,259.2 M606.2,167.7 614.1,174.9 627.4,178.2 640.6,179.3 644.1,185.2 649.3,195.3 M767.8,274.6 763.3,246.8 M771.0,293.7 767.8,274.6 M742.2,326.2 745.9,335.3 755.4,343.5 744.7,355.7 729.8,366.2 M763.1,361.5 754.4,362.8 745.6,364.0 736.8,365.3 728.1,366.4 719.3,367.5 710.5,368.6 701.7,369.6 692.9,370.6 684.1,371.5 675.3,372.3 666.5,373.1 657.7,373.9 657.8,376.0 633.8,377.8 M857.7,345.2 849.1,347.0 840.5,348.8 831.9,350.5 823.3,352.2 814.7,353.8 806.0,355.4 797.4,357.0 788.8,358.4 780.1,359.9 771.5,361.3 762.8,362.6 M762.6,361.6 760.6,372.5 749.4,376.9 740.2,383.9 729.1,389.6 723.4,401.0 M723.4,401.0 714.4,402.1 705.4,403.1 696.4,404.1 687.3,405.0 678.3,405.9 669.3,406.7 660.3,407.5 651.2,408.2 642.2,408.9 633.2,409.5 624.1,410.1 M723.4,401.0 743.7,398.3 756.7,392.2 777.9,389.9 783.0,396.3 801.8,393.2 824.4,409.8 M743.7,398.3 749.5,408.1 762.0,417.0 769.0,428.7 777.7,440.1 791.5,454.3 M701.8,403.5 714.0,447.6 719.2,465.0 721.6,485.8 M721.6,485.8 724.8,491.7 772.4,488.2 774.7,491.4 785.2,482.9 M721.6,485.8 712.4,486.8 703.2,487.8 693.9,488.7 684.7,489.6 675.5,490.5 678.6,504.9 M657.9,407.7 659.8,409.6 660.4,491.8 662.4,505.2 M755.4,343.5 768.2,345.8 782.1,339.3 789.8,316.6 806.6,300.7 816.0,294.6 M816.0,294.6 820.8,298.0 827.7,299.8 832.0,312.9 843.6,317.0 M816.0,294.6 807.8,289.7 795.6,294.1 788.9,301.8 787.3,290.9 M771.0,293.7 779.2,292.3 787.5,290.9 795.7,289.4 803.9,287.9 812.1,286.3 820.3,284.7 828.5,283.1 836.7,281.4 844.9,279.6 M844.9,279.6 850.5,305.6 862.2,303.0 M844.9,279.6 847.3,276.5 850.6,276.7 858.8,266.2 850.0,259.6 854.2,242.4 M774.7,244.4 783.1,242.9 791.4,241.4 799.7,239.9 808.1,238.3 816.4,236.6 824.7,234.9 832.9,233.1 841.2,231.3 854.2,242.4 868.0,246.8 M871.8,245.9 873.6,243.3 868.9,223.9 868.8,208.8 864.2,191.5 856.5,163.2 M868.9,223.9 877.4,221.8 885.8,219.7 894.3,217.5 898.2,232.8 M894.4,218.1 900.8,216.9 907.4,226.0 M868.9,209.2 878.7,206.8 888.3,204.3 898.0,201.8 903.9,197.1 M880.9,206.2 877.8,190.3 879.6,179.0 882.8,167.4 883.0,156.6 M887.3,148.9 898.0,182.9 905.0,192.5" fill="none" stroke="#fff" stroke-width="1" stroke-opacity="0.75"/>
<defs><clipPath id="akc"><path d="M134.9,494.6 140,489 146.5,485.7 152,482 157.4,479.6 165.6,476.8 170,479 176.6,483 182,484.5 190.2,486.4 198,487.7 206.6,490.5 209.4,524.7 212.9,561.6 216.2,562.4 226.2,564.9 232.8,564.9 241.1,571.5 249.4,578.2 259.4,584.8 265.2,593.1 264.3,597.3 256,599.8 246.1,593.1 239.4,586.5 232.8,578.2 226.2,571.5 216.2,565.7 204.6,566.6 196.3,568.2 189.6,563.2 184.7,564.9 181.3,569.9 173,574 172.2,561.6 169.7,561.6 166.4,574.9 161.4,576.5 159.8,579.8 153.1,584.8 146.5,588.1 141.5,591.5 136.5,593.1 128.2,594.8 119.9,598.1 113.3,599.8 111.6,598.1 121.6,594.8 134.9,589.8 141.5,584.8 148.1,578.2 153.1,571.5 156.4,563.2 153.1,561.6 143.2,566.6 136.5,571.5 133.2,569.9 131.5,561.6 124.9,556.6 121.6,550 121.6,543.3 128.8,534.9 132.8,535.6 139.6,535.6 143.8,528.8 141,527.4 130.1,524.7 127.3,520.6 124.6,513.8 136.9,509 138.3,509.7 142.4,501.4Z"/></clipPath></defs><path d="M134.9,494.6 140,489 146.5,485.7 152,482 157.4,479.6 165.6,476.8 170,479 176.6,483 182,484.5 190.2,486.4 198,487.7 206.6,490.5 209.4,524.7 212.9,561.6 216.2,562.4 226.2,564.9 232.8,564.9 241.1,571.5 249.4,578.2 259.4,584.8 265.2,593.1 264.3,597.3 256,599.8 246.1,593.1 239.4,586.5 232.8,578.2 226.2,571.5 216.2,565.7 204.6,566.6 196.3,568.2 189.6,563.2 184.7,564.9 181.3,569.9 173,574 172.2,561.6 169.7,561.6 166.4,574.9 161.4,576.5 159.8,579.8 153.1,584.8 146.5,588.1 141.5,591.5 136.5,593.1 128.2,594.8 119.9,598.1 113.3,599.8 111.6,598.1 121.6,594.8 134.9,589.8 141.5,584.8 148.1,578.2 153.1,571.5 156.4,563.2 153.1,561.6 143.2,566.6 136.5,571.5 133.2,569.9 131.5,561.6 124.9,556.6 121.6,550 121.6,543.3 128.8,534.9 132.8,535.6 139.6,535.6 143.8,528.8 141,527.4 130.1,524.7 127.3,520.6 124.6,513.8 136.9,509 138.3,509.7 142.4,501.4Z" fill="#950f6f"/><g clip-path="url(#akc)"><path d="M167,503 206.6,499.4 215,499 215,565 205,565 185,558 172,557 160,562 150,570 141,566 143.8,528.8 147.9,519.2 152,516.5 167,513.8Z" fill="#e03420"/>
<path d="M124.6,513.8 136.9,509 139.6,516.5 147.9,519.2 147.9,526.1 141,527.4 130.1,524.7 127.3,520.6Z" fill="#e03420"/>
<path d="M121.6,540 141.5,540 141.5,550 168.1,550 168.1,556.6 154.8,557.4 141.5,558.3 133.2,569.9 131.5,561.6 123.2,556.6 118.3,546.6Z" fill="#950f6f"/>
<path d="M141.5,558.3 154.8,557.4 156.4,563.2 149.8,573.2 136.5,573.2Z" fill="#e03420"/>
<path d="M154.8,557.4 166.4,558.3 164.7,564.9 159.8,579.8 146.5,588.1 136.5,594.8 134.9,589.8 148.1,578.2 153.1,571.5 156.4,563.2Z" fill="#cfcfcf"/>
<path d="M166.4,556.6 186.3,555.8 186.3,564.9 181.3,571.5 173,574.9 166.4,575.7 163.1,573.2Z" fill="#fb8608"/>
<path d="M183,556 213,556 213,566 196,568 189,562Z" fill="#e03420"/>
<path d="M110,598.1 119.9,594.8 139.8,588.1 138.2,593.1 128.2,597.3 118.3,600.6Z" fill="#950f6f"/>
<path d="M202.9,564.9 216.2,562.4 226.2,564.9 232.8,566.6 241.1,578.2 236.1,581.5 229.5,574.9 219.5,568.2Z" fill="#cfcfcf"/>
<path d="M231.1,564.9 241.1,571.5 259.4,584.8 265.2,593.1 261,598.1 249.4,589.8 239.4,584.8 234.5,576.5Z" fill="#fb8608"/>
<path d="M244.4,583.2 254.4,586.5 259.4,598.1 254.4,599.8 246.1,593.1Z" fill="#a3c563"/></g><path d="M107,523 112,525 116,530 113,532 108,528Z" fill="#e03420"/>
<path d="M158.1,583.2 169.7,578.2 171.4,583.2 163.1,591.5 158.1,593.1Z" fill="#e03420"/>
<path d="M113,555 118,554 120,557 116,559Z" fill="#950f6f"/>
<path d="M275.5,534.5 280,532.5 284.5,533.5 284.5,537 282,540.5 277,540 275,537.5Z" fill="#fdd20a"/>
<path d="M267,540 269.5,537.5 270.5,538.5 268,542Z" fill="#fdd20a"/>
<path d="M304.5,546 308,544.5 310,546 313,549.5 316,552.5 311,553.5 305,550.5Z" fill="#fb8608"/>
<path d="M322.5,554.5 327,555 333,554.5 334,556.5 328,557.5 323,556Z" fill="#e03420"/>
<path d="M327.5,561 330.5,560.5 332,563.5 329.5,565Z" fill="#e03420"/>
<path d="M335,558.5 339,559 343,561 348,563.5 348.5,566.5 344,568 339,566 336,562Z" fill="#e03420"/>
<path d="M334.5,567.5 337.5,567 338,569 335,569.5Z" fill="#e03420"/>
<path d="M350.5,575 355,576.5 363,583 372,589.5 370.5,593 362,597.5 356,602.5 351.5,601.5 350,592 346,584Z" fill="#fb8608"/>
<g font-size="9" fill="#fff" fill-opacity="0.85" font-family="Liberation Sans" style="letter-spacing:-0.1px">
<text x="180.7" y="110.2" text-anchor="middle">Wash.</text>
<text x="163" y="181.5" text-anchor="middle">Ore.</text>
<text x="242.2" y="201.9" text-anchor="middle">Idaho</text>
<text x="200.2" y="285.9" text-anchor="middle">Nev.</text>
<text x="271.5" y="306.4" text-anchor="middle">Utah</text>
<text x="330.9" y="148.3" text-anchor="middle">Mont.</text>
<text x="461.8" y="151.2" text-anchor="middle">N.D.</text>
<text x="545.5" y="173.6" text-anchor="middle">Minn.</text>
<text x="350.4" y="236.1" text-anchor="middle">Wyo.</text>
<text x="461.8" y="214.6" text-anchor="middle">S.D.</text>
<text x="466.6" y="277.1" text-anchor="middle">Neb.</text>
<text x="564.3" y="266.7" text-anchor="middle">Iowa</text>
<text x="614.9" y="207.8" text-anchor="middle">Wis.</text>
<text x="633.4" y="300.6" text-anchor="middle">Ill.</text>
<text x="679.3" y="303.5" text-anchor="middle">Ind.</text>
<text x="691.8" y="233.2" text-anchor="middle">Mich.</text>
<text x="731.9" y="293.7" text-anchor="middle">Ohio</text>
<text x="808" y="264.4" text-anchor="middle">Pa.</text>
<text x="843.2" y="202.9" text-anchor="middle">N.Y.</text>
<text x="857" y="254.7" text-anchor="middle">N.J.</text>
<text x="826.6" y="292.7" text-anchor="middle">Md.</text>
<text x="853.3" y="300.6" text-anchor="middle">Del.</text>
<text x="891.4" y="213.6" text-anchor="middle">Mass.</text>
<text x="898.2" y="225.4" text-anchor="middle">R.I.</text>
<text x="868.9" y="178.5" text-anchor="middle">Vt.</text>
<text x="886.5" y="186.3" text-anchor="middle">N.H.</text>
<text x="910.9" y="136.5" text-anchor="middle">Maine</text>
<text x="138.7" y="334.3" text-anchor="middle">Calif.</text>
<text x="259.8" y="408.9" text-anchor="middle">Ariz.</text>
<text x="372.5" y="322.8" text-anchor="middle">Colo.</text>
<text x="353.4" y="415.7" text-anchor="middle">N.M.</text>
<text x="487" y="340.8" text-anchor="middle">Kan.</text>
<text x="577.8" y="343.5" text-anchor="middle">Mo.</text>
<text x="499.6" y="405.0" text-anchor="middle">Okla.</text>
<text x="582.7" y="419.7" text-anchor="middle">Ark.</text>
<text x="687" y="389.8" text-anchor="middle">Tenn.</text>
<text x="705.5" y="348.4" text-anchor="middle">Ky.</text>
<text x="770.9" y="317.1" text-anchor="middle">W.Va.</text>
<text x="811" y="328.8" text-anchor="middle">Va.</text>
<text x="820.7" y="378.6" text-anchor="middle">N.C.</text>
<text x="786.6" y="419.7" text-anchor="middle">S.C.</text>
<text x="747.5" y="455.7" text-anchor="middle">Ga.</text>
<text x="686" y="455.3" text-anchor="middle">Ala.</text>
<text x="635.4" y="456.7" text-anchor="middle">Miss.</text>
<text x="585.6" y="482.7" text-anchor="middle">La.</text>
<text x="476" y="496.3" text-anchor="middle">Texas</text>
<text x="789.4" y="535.8" text-anchor="middle">Fla.</text>
<text x="171.4" y="524.5" text-anchor="middle">Alaska</text>
<text x="358.3" y="589.9" text-anchor="middle">Hawaii</text>
</g>
<g font-size="7" fill="#e8e8e8" fill-opacity="0.45" font-family="Liberation Sans">
<text x="560" y="203.5" text-anchor="middle">Minneapolis</text>
<text x="655" y="264.5" text-anchor="middle">Chicago</text>
<text x="617" y="334.5" text-anchor="middle">St. Louis</text>
<text x="723" y="246.5" text-anchor="middle">Detroit</text>
<text x="854" y="272.5" text-anchor="middle">Philadelphia</text>
<text x="509" y="460.5" text-anchor="middle">Dallas</text>
<text x="537" y="523.5" text-anchor="middle">Houston</text>
<text x="822" y="581.5" text-anchor="middle">Miami</text>
<text x="150" y="391.5" text-anchor="middle">Los Angeles</text>
<text x="160" y="419.5" text-anchor="middle">San Diego</text>
<text x="100" y="296.5" text-anchor="middle">San Francisco</text>
<text x="725" y="426.5" text-anchor="middle">Atlanta</text>
<text x="633" y="515.5" text-anchor="middle">New Orleans</text>
<text x="311" y="553.5" text-anchor="middle">Honolulu</text>
<text x="181" y="559.0" text-anchor="middle">Anchorage</text>
</g>
<g>
<rect x="946.5" y="69.5" width="22" height="41" rx="3.5" fill="#fff" stroke="#dcdcdc" stroke-width="1"/>
<line x1="947" y1="90" x2="968" y2="90" stroke="#e4e4e4" stroke-width="1"/>
<rect x="954" y="80" width="8.5" height="2" fill="#333"/><rect x="957.2" y="76.8" width="2" height="8.4" fill="#333"/>
<rect x="954" y="99.5" width="8.5" height="2.2" fill="#333"/>
</g>
<g opacity="0.9">
<circle cx="64.2" cy="603.7" r="6.3" fill="#fff" stroke="#c8c8c8" stroke-width="1.3"/>
<path d="M61.5,607 L61.5,602.5 A3,3 0 1 1 64.5,605.5 Z" fill="#c8c8c8"/>
<text x="72" y="608.5" font-family="'Liberation Sans', sans-serif" font-weight="bold" font-size="12" fill="#efefef" stroke="#bdbdbd" stroke-width="0.7" style="letter-spacing:0px">mapbox</text>
</g>
</svg>
<div class="title"><b>The risk of getting Covid-19</b> is based on cases and test positivity.</div>
<div class="sq" style="left:309px;background:#a3c563"></div><div class="leg" style="left:320px">LOW</div>
<div class="sq" style="left:344px;background:#fdd20a"></div><div class="leg" style="left:355px">MEDIUM</div>
<div class="sq" style="left:396px;background:#fb8608"></div><div class="leg" style="left:406px">HIGH</div>
<div class="sq" style="left:433px;background:#e03420"></div><div class="leg" style="left:442px">VERY HIGH</div>
<div class="sq" style="left:494px;background:#950f6f"></div><div class="leg" style="left:503px">EXTREMELY HIGH</div>

</body></html>
